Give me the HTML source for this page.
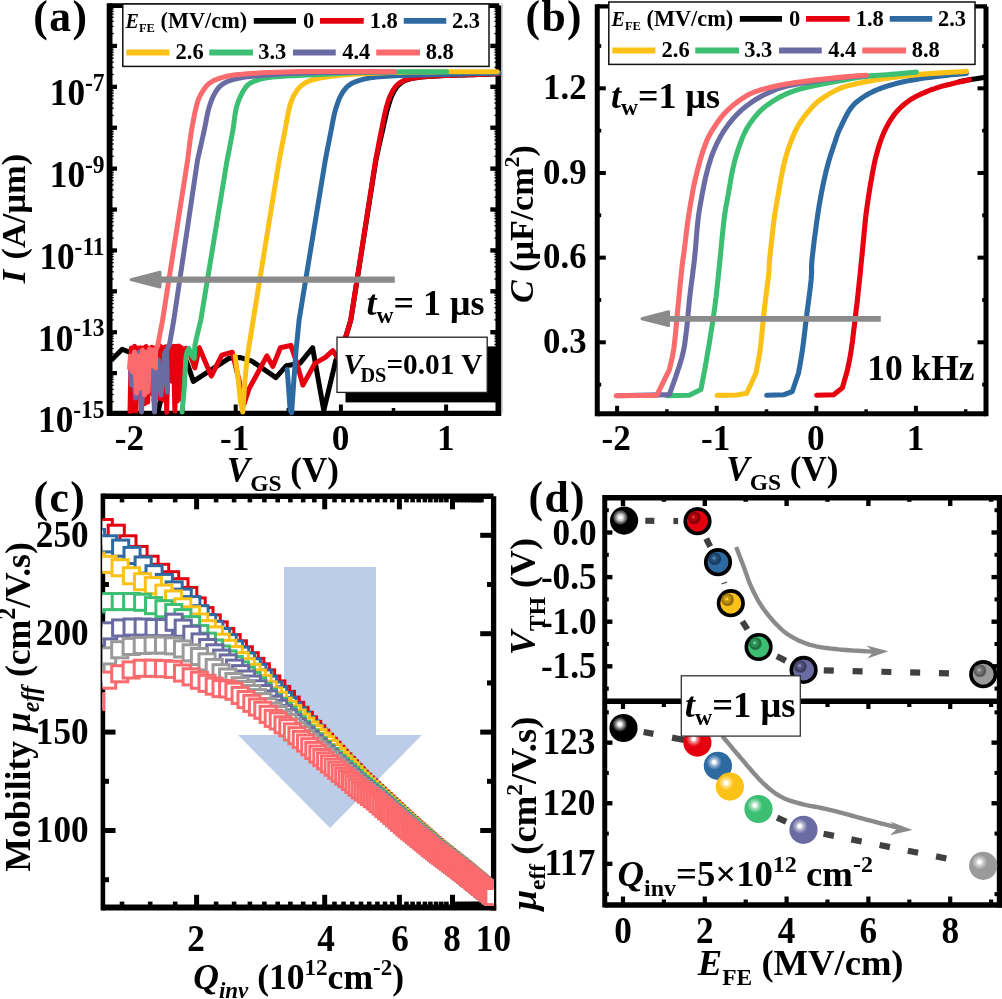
<!DOCTYPE html>
<html><head><meta charset="utf-8"><title>Figure</title>
<style>html,body{margin:0;padding:0;background:#fff;}svg{display:block;}</style>
</head><body>
<svg width="1002" height="999" viewBox="0 0 1002 999">
<rect x="0" y="0" width="1002" height="999" fill="#ffffff"/>
<line x1="109.60" y1="373.10" x2="117.00" y2="373.10" stroke="#000000" stroke-width="4.2" stroke-linecap="butt" />
<line x1="498.40" y1="373.10" x2="490.30" y2="373.10" stroke="#000000" stroke-width="4.4" stroke-linecap="butt" />
<line x1="109.60" y1="360.79" x2="113.70" y2="360.79" stroke="#000000" stroke-width="1.3" stroke-linecap="butt" />
<line x1="498.40" y1="360.79" x2="494.40" y2="360.79" stroke="#000000" stroke-width="1.3" stroke-linecap="butt" />
<line x1="109.60" y1="353.59" x2="113.70" y2="353.59" stroke="#000000" stroke-width="1.3" stroke-linecap="butt" />
<line x1="498.40" y1="353.59" x2="494.40" y2="353.59" stroke="#000000" stroke-width="1.3" stroke-linecap="butt" />
<line x1="109.60" y1="348.48" x2="113.70" y2="348.48" stroke="#000000" stroke-width="1.3" stroke-linecap="butt" />
<line x1="498.40" y1="348.48" x2="494.40" y2="348.48" stroke="#000000" stroke-width="1.3" stroke-linecap="butt" />
<line x1="109.60" y1="344.51" x2="113.70" y2="344.51" stroke="#000000" stroke-width="1.3" stroke-linecap="butt" />
<line x1="498.40" y1="344.51" x2="494.40" y2="344.51" stroke="#000000" stroke-width="1.3" stroke-linecap="butt" />
<line x1="109.60" y1="341.27" x2="113.70" y2="341.27" stroke="#000000" stroke-width="1.3" stroke-linecap="butt" />
<line x1="498.40" y1="341.27" x2="494.40" y2="341.27" stroke="#000000" stroke-width="1.3" stroke-linecap="butt" />
<line x1="109.60" y1="338.54" x2="113.70" y2="338.54" stroke="#000000" stroke-width="1.3" stroke-linecap="butt" />
<line x1="498.40" y1="338.54" x2="494.40" y2="338.54" stroke="#000000" stroke-width="1.3" stroke-linecap="butt" />
<line x1="109.60" y1="336.16" x2="113.70" y2="336.16" stroke="#000000" stroke-width="1.3" stroke-linecap="butt" />
<line x1="498.40" y1="336.16" x2="494.40" y2="336.16" stroke="#000000" stroke-width="1.3" stroke-linecap="butt" />
<line x1="109.60" y1="334.07" x2="113.70" y2="334.07" stroke="#000000" stroke-width="1.3" stroke-linecap="butt" />
<line x1="498.40" y1="334.07" x2="494.40" y2="334.07" stroke="#000000" stroke-width="1.3" stroke-linecap="butt" />
<line x1="109.60" y1="332.20" x2="117.00" y2="332.20" stroke="#000000" stroke-width="4.2" stroke-linecap="butt" />
<line x1="498.40" y1="332.20" x2="490.30" y2="332.20" stroke="#000000" stroke-width="4.4" stroke-linecap="butt" />
<line x1="109.60" y1="319.89" x2="113.70" y2="319.89" stroke="#000000" stroke-width="1.3" stroke-linecap="butt" />
<line x1="498.40" y1="319.89" x2="494.40" y2="319.89" stroke="#000000" stroke-width="1.3" stroke-linecap="butt" />
<line x1="109.60" y1="312.69" x2="113.70" y2="312.69" stroke="#000000" stroke-width="1.3" stroke-linecap="butt" />
<line x1="498.40" y1="312.69" x2="494.40" y2="312.69" stroke="#000000" stroke-width="1.3" stroke-linecap="butt" />
<line x1="109.60" y1="307.58" x2="113.70" y2="307.58" stroke="#000000" stroke-width="1.3" stroke-linecap="butt" />
<line x1="498.40" y1="307.58" x2="494.40" y2="307.58" stroke="#000000" stroke-width="1.3" stroke-linecap="butt" />
<line x1="109.60" y1="303.61" x2="113.70" y2="303.61" stroke="#000000" stroke-width="1.3" stroke-linecap="butt" />
<line x1="498.40" y1="303.61" x2="494.40" y2="303.61" stroke="#000000" stroke-width="1.3" stroke-linecap="butt" />
<line x1="109.60" y1="300.37" x2="113.70" y2="300.37" stroke="#000000" stroke-width="1.3" stroke-linecap="butt" />
<line x1="498.40" y1="300.37" x2="494.40" y2="300.37" stroke="#000000" stroke-width="1.3" stroke-linecap="butt" />
<line x1="109.60" y1="297.64" x2="113.70" y2="297.64" stroke="#000000" stroke-width="1.3" stroke-linecap="butt" />
<line x1="498.40" y1="297.64" x2="494.40" y2="297.64" stroke="#000000" stroke-width="1.3" stroke-linecap="butt" />
<line x1="109.60" y1="295.26" x2="113.70" y2="295.26" stroke="#000000" stroke-width="1.3" stroke-linecap="butt" />
<line x1="498.40" y1="295.26" x2="494.40" y2="295.26" stroke="#000000" stroke-width="1.3" stroke-linecap="butt" />
<line x1="109.60" y1="293.17" x2="113.70" y2="293.17" stroke="#000000" stroke-width="1.3" stroke-linecap="butt" />
<line x1="498.40" y1="293.17" x2="494.40" y2="293.17" stroke="#000000" stroke-width="1.3" stroke-linecap="butt" />
<line x1="109.60" y1="291.30" x2="117.00" y2="291.30" stroke="#000000" stroke-width="4.2" stroke-linecap="butt" />
<line x1="498.40" y1="291.30" x2="490.30" y2="291.30" stroke="#000000" stroke-width="4.4" stroke-linecap="butt" />
<line x1="109.60" y1="278.99" x2="113.70" y2="278.99" stroke="#000000" stroke-width="1.3" stroke-linecap="butt" />
<line x1="498.40" y1="278.99" x2="494.40" y2="278.99" stroke="#000000" stroke-width="1.3" stroke-linecap="butt" />
<line x1="109.60" y1="271.79" x2="113.70" y2="271.79" stroke="#000000" stroke-width="1.3" stroke-linecap="butt" />
<line x1="498.40" y1="271.79" x2="494.40" y2="271.79" stroke="#000000" stroke-width="1.3" stroke-linecap="butt" />
<line x1="109.60" y1="266.68" x2="113.70" y2="266.68" stroke="#000000" stroke-width="1.3" stroke-linecap="butt" />
<line x1="498.40" y1="266.68" x2="494.40" y2="266.68" stroke="#000000" stroke-width="1.3" stroke-linecap="butt" />
<line x1="109.60" y1="262.71" x2="113.70" y2="262.71" stroke="#000000" stroke-width="1.3" stroke-linecap="butt" />
<line x1="498.40" y1="262.71" x2="494.40" y2="262.71" stroke="#000000" stroke-width="1.3" stroke-linecap="butt" />
<line x1="109.60" y1="259.47" x2="113.70" y2="259.47" stroke="#000000" stroke-width="1.3" stroke-linecap="butt" />
<line x1="498.40" y1="259.47" x2="494.40" y2="259.47" stroke="#000000" stroke-width="1.3" stroke-linecap="butt" />
<line x1="109.60" y1="256.74" x2="113.70" y2="256.74" stroke="#000000" stroke-width="1.3" stroke-linecap="butt" />
<line x1="498.40" y1="256.74" x2="494.40" y2="256.74" stroke="#000000" stroke-width="1.3" stroke-linecap="butt" />
<line x1="109.60" y1="254.36" x2="113.70" y2="254.36" stroke="#000000" stroke-width="1.3" stroke-linecap="butt" />
<line x1="498.40" y1="254.36" x2="494.40" y2="254.36" stroke="#000000" stroke-width="1.3" stroke-linecap="butt" />
<line x1="109.60" y1="252.27" x2="113.70" y2="252.27" stroke="#000000" stroke-width="1.3" stroke-linecap="butt" />
<line x1="498.40" y1="252.27" x2="494.40" y2="252.27" stroke="#000000" stroke-width="1.3" stroke-linecap="butt" />
<line x1="109.60" y1="250.40" x2="117.00" y2="250.40" stroke="#000000" stroke-width="4.2" stroke-linecap="butt" />
<line x1="498.40" y1="250.40" x2="490.30" y2="250.40" stroke="#000000" stroke-width="4.4" stroke-linecap="butt" />
<line x1="109.60" y1="238.09" x2="113.70" y2="238.09" stroke="#000000" stroke-width="1.3" stroke-linecap="butt" />
<line x1="498.40" y1="238.09" x2="494.40" y2="238.09" stroke="#000000" stroke-width="1.3" stroke-linecap="butt" />
<line x1="109.60" y1="230.89" x2="113.70" y2="230.89" stroke="#000000" stroke-width="1.3" stroke-linecap="butt" />
<line x1="498.40" y1="230.89" x2="494.40" y2="230.89" stroke="#000000" stroke-width="1.3" stroke-linecap="butt" />
<line x1="109.60" y1="225.78" x2="113.70" y2="225.78" stroke="#000000" stroke-width="1.3" stroke-linecap="butt" />
<line x1="498.40" y1="225.78" x2="494.40" y2="225.78" stroke="#000000" stroke-width="1.3" stroke-linecap="butt" />
<line x1="109.60" y1="221.81" x2="113.70" y2="221.81" stroke="#000000" stroke-width="1.3" stroke-linecap="butt" />
<line x1="498.40" y1="221.81" x2="494.40" y2="221.81" stroke="#000000" stroke-width="1.3" stroke-linecap="butt" />
<line x1="109.60" y1="218.57" x2="113.70" y2="218.57" stroke="#000000" stroke-width="1.3" stroke-linecap="butt" />
<line x1="498.40" y1="218.57" x2="494.40" y2="218.57" stroke="#000000" stroke-width="1.3" stroke-linecap="butt" />
<line x1="109.60" y1="215.84" x2="113.70" y2="215.84" stroke="#000000" stroke-width="1.3" stroke-linecap="butt" />
<line x1="498.40" y1="215.84" x2="494.40" y2="215.84" stroke="#000000" stroke-width="1.3" stroke-linecap="butt" />
<line x1="109.60" y1="213.46" x2="113.70" y2="213.46" stroke="#000000" stroke-width="1.3" stroke-linecap="butt" />
<line x1="498.40" y1="213.46" x2="494.40" y2="213.46" stroke="#000000" stroke-width="1.3" stroke-linecap="butt" />
<line x1="109.60" y1="211.37" x2="113.70" y2="211.37" stroke="#000000" stroke-width="1.3" stroke-linecap="butt" />
<line x1="498.40" y1="211.37" x2="494.40" y2="211.37" stroke="#000000" stroke-width="1.3" stroke-linecap="butt" />
<line x1="109.60" y1="209.50" x2="117.00" y2="209.50" stroke="#000000" stroke-width="4.2" stroke-linecap="butt" />
<line x1="498.40" y1="209.50" x2="490.30" y2="209.50" stroke="#000000" stroke-width="4.4" stroke-linecap="butt" />
<line x1="109.60" y1="197.19" x2="113.70" y2="197.19" stroke="#000000" stroke-width="1.3" stroke-linecap="butt" />
<line x1="498.40" y1="197.19" x2="494.40" y2="197.19" stroke="#000000" stroke-width="1.3" stroke-linecap="butt" />
<line x1="109.60" y1="189.99" x2="113.70" y2="189.99" stroke="#000000" stroke-width="1.3" stroke-linecap="butt" />
<line x1="498.40" y1="189.99" x2="494.40" y2="189.99" stroke="#000000" stroke-width="1.3" stroke-linecap="butt" />
<line x1="109.60" y1="184.88" x2="113.70" y2="184.88" stroke="#000000" stroke-width="1.3" stroke-linecap="butt" />
<line x1="498.40" y1="184.88" x2="494.40" y2="184.88" stroke="#000000" stroke-width="1.3" stroke-linecap="butt" />
<line x1="109.60" y1="180.91" x2="113.70" y2="180.91" stroke="#000000" stroke-width="1.3" stroke-linecap="butt" />
<line x1="498.40" y1="180.91" x2="494.40" y2="180.91" stroke="#000000" stroke-width="1.3" stroke-linecap="butt" />
<line x1="109.60" y1="177.67" x2="113.70" y2="177.67" stroke="#000000" stroke-width="1.3" stroke-linecap="butt" />
<line x1="498.40" y1="177.67" x2="494.40" y2="177.67" stroke="#000000" stroke-width="1.3" stroke-linecap="butt" />
<line x1="109.60" y1="174.94" x2="113.70" y2="174.94" stroke="#000000" stroke-width="1.3" stroke-linecap="butt" />
<line x1="498.40" y1="174.94" x2="494.40" y2="174.94" stroke="#000000" stroke-width="1.3" stroke-linecap="butt" />
<line x1="109.60" y1="172.56" x2="113.70" y2="172.56" stroke="#000000" stroke-width="1.3" stroke-linecap="butt" />
<line x1="498.40" y1="172.56" x2="494.40" y2="172.56" stroke="#000000" stroke-width="1.3" stroke-linecap="butt" />
<line x1="109.60" y1="170.47" x2="113.70" y2="170.47" stroke="#000000" stroke-width="1.3" stroke-linecap="butt" />
<line x1="498.40" y1="170.47" x2="494.40" y2="170.47" stroke="#000000" stroke-width="1.3" stroke-linecap="butt" />
<line x1="109.60" y1="168.60" x2="117.00" y2="168.60" stroke="#000000" stroke-width="4.2" stroke-linecap="butt" />
<line x1="498.40" y1="168.60" x2="490.30" y2="168.60" stroke="#000000" stroke-width="4.4" stroke-linecap="butt" />
<line x1="109.60" y1="156.29" x2="113.70" y2="156.29" stroke="#000000" stroke-width="1.3" stroke-linecap="butt" />
<line x1="498.40" y1="156.29" x2="494.40" y2="156.29" stroke="#000000" stroke-width="1.3" stroke-linecap="butt" />
<line x1="109.60" y1="149.09" x2="113.70" y2="149.09" stroke="#000000" stroke-width="1.3" stroke-linecap="butt" />
<line x1="498.40" y1="149.09" x2="494.40" y2="149.09" stroke="#000000" stroke-width="1.3" stroke-linecap="butt" />
<line x1="109.60" y1="143.98" x2="113.70" y2="143.98" stroke="#000000" stroke-width="1.3" stroke-linecap="butt" />
<line x1="498.40" y1="143.98" x2="494.40" y2="143.98" stroke="#000000" stroke-width="1.3" stroke-linecap="butt" />
<line x1="109.60" y1="140.01" x2="113.70" y2="140.01" stroke="#000000" stroke-width="1.3" stroke-linecap="butt" />
<line x1="498.40" y1="140.01" x2="494.40" y2="140.01" stroke="#000000" stroke-width="1.3" stroke-linecap="butt" />
<line x1="109.60" y1="136.77" x2="113.70" y2="136.77" stroke="#000000" stroke-width="1.3" stroke-linecap="butt" />
<line x1="498.40" y1="136.77" x2="494.40" y2="136.77" stroke="#000000" stroke-width="1.3" stroke-linecap="butt" />
<line x1="109.60" y1="134.04" x2="113.70" y2="134.04" stroke="#000000" stroke-width="1.3" stroke-linecap="butt" />
<line x1="498.40" y1="134.04" x2="494.40" y2="134.04" stroke="#000000" stroke-width="1.3" stroke-linecap="butt" />
<line x1="109.60" y1="131.66" x2="113.70" y2="131.66" stroke="#000000" stroke-width="1.3" stroke-linecap="butt" />
<line x1="498.40" y1="131.66" x2="494.40" y2="131.66" stroke="#000000" stroke-width="1.3" stroke-linecap="butt" />
<line x1="109.60" y1="129.57" x2="113.70" y2="129.57" stroke="#000000" stroke-width="1.3" stroke-linecap="butt" />
<line x1="498.40" y1="129.57" x2="494.40" y2="129.57" stroke="#000000" stroke-width="1.3" stroke-linecap="butt" />
<line x1="109.60" y1="127.70" x2="117.00" y2="127.70" stroke="#000000" stroke-width="4.2" stroke-linecap="butt" />
<line x1="498.40" y1="127.70" x2="490.30" y2="127.70" stroke="#000000" stroke-width="4.4" stroke-linecap="butt" />
<line x1="109.60" y1="115.39" x2="113.70" y2="115.39" stroke="#000000" stroke-width="1.3" stroke-linecap="butt" />
<line x1="498.40" y1="115.39" x2="494.40" y2="115.39" stroke="#000000" stroke-width="1.3" stroke-linecap="butt" />
<line x1="109.60" y1="108.19" x2="113.70" y2="108.19" stroke="#000000" stroke-width="1.3" stroke-linecap="butt" />
<line x1="498.40" y1="108.19" x2="494.40" y2="108.19" stroke="#000000" stroke-width="1.3" stroke-linecap="butt" />
<line x1="109.60" y1="103.08" x2="113.70" y2="103.08" stroke="#000000" stroke-width="1.3" stroke-linecap="butt" />
<line x1="498.40" y1="103.08" x2="494.40" y2="103.08" stroke="#000000" stroke-width="1.3" stroke-linecap="butt" />
<line x1="109.60" y1="99.11" x2="113.70" y2="99.11" stroke="#000000" stroke-width="1.3" stroke-linecap="butt" />
<line x1="498.40" y1="99.11" x2="494.40" y2="99.11" stroke="#000000" stroke-width="1.3" stroke-linecap="butt" />
<line x1="109.60" y1="95.87" x2="113.70" y2="95.87" stroke="#000000" stroke-width="1.3" stroke-linecap="butt" />
<line x1="498.40" y1="95.87" x2="494.40" y2="95.87" stroke="#000000" stroke-width="1.3" stroke-linecap="butt" />
<line x1="109.60" y1="93.14" x2="113.70" y2="93.14" stroke="#000000" stroke-width="1.3" stroke-linecap="butt" />
<line x1="498.40" y1="93.14" x2="494.40" y2="93.14" stroke="#000000" stroke-width="1.3" stroke-linecap="butt" />
<line x1="109.60" y1="90.76" x2="113.70" y2="90.76" stroke="#000000" stroke-width="1.3" stroke-linecap="butt" />
<line x1="498.40" y1="90.76" x2="494.40" y2="90.76" stroke="#000000" stroke-width="1.3" stroke-linecap="butt" />
<line x1="109.60" y1="88.67" x2="113.70" y2="88.67" stroke="#000000" stroke-width="1.3" stroke-linecap="butt" />
<line x1="498.40" y1="88.67" x2="494.40" y2="88.67" stroke="#000000" stroke-width="1.3" stroke-linecap="butt" />
<line x1="109.60" y1="86.80" x2="117.00" y2="86.80" stroke="#000000" stroke-width="4.2" stroke-linecap="butt" />
<line x1="498.40" y1="86.80" x2="490.30" y2="86.80" stroke="#000000" stroke-width="4.4" stroke-linecap="butt" />
<line x1="109.60" y1="74.49" x2="113.70" y2="74.49" stroke="#000000" stroke-width="1.3" stroke-linecap="butt" />
<line x1="498.40" y1="74.49" x2="494.40" y2="74.49" stroke="#000000" stroke-width="1.3" stroke-linecap="butt" />
<line x1="109.60" y1="67.29" x2="113.70" y2="67.29" stroke="#000000" stroke-width="1.3" stroke-linecap="butt" />
<line x1="498.40" y1="67.29" x2="494.40" y2="67.29" stroke="#000000" stroke-width="1.3" stroke-linecap="butt" />
<line x1="109.60" y1="62.18" x2="113.70" y2="62.18" stroke="#000000" stroke-width="1.3" stroke-linecap="butt" />
<line x1="498.40" y1="62.18" x2="494.40" y2="62.18" stroke="#000000" stroke-width="1.3" stroke-linecap="butt" />
<line x1="109.60" y1="58.21" x2="113.70" y2="58.21" stroke="#000000" stroke-width="1.3" stroke-linecap="butt" />
<line x1="498.40" y1="58.21" x2="494.40" y2="58.21" stroke="#000000" stroke-width="1.3" stroke-linecap="butt" />
<line x1="109.60" y1="54.97" x2="113.70" y2="54.97" stroke="#000000" stroke-width="1.3" stroke-linecap="butt" />
<line x1="498.40" y1="54.97" x2="494.40" y2="54.97" stroke="#000000" stroke-width="1.3" stroke-linecap="butt" />
<line x1="109.60" y1="52.24" x2="113.70" y2="52.24" stroke="#000000" stroke-width="1.3" stroke-linecap="butt" />
<line x1="498.40" y1="52.24" x2="494.40" y2="52.24" stroke="#000000" stroke-width="1.3" stroke-linecap="butt" />
<line x1="109.60" y1="49.86" x2="113.70" y2="49.86" stroke="#000000" stroke-width="1.3" stroke-linecap="butt" />
<line x1="498.40" y1="49.86" x2="494.40" y2="49.86" stroke="#000000" stroke-width="1.3" stroke-linecap="butt" />
<line x1="109.60" y1="47.77" x2="113.70" y2="47.77" stroke="#000000" stroke-width="1.3" stroke-linecap="butt" />
<line x1="498.40" y1="47.77" x2="494.40" y2="47.77" stroke="#000000" stroke-width="1.3" stroke-linecap="butt" />
<line x1="109.60" y1="45.90" x2="117.00" y2="45.90" stroke="#000000" stroke-width="4.2" stroke-linecap="butt" />
<line x1="498.40" y1="45.90" x2="490.30" y2="45.90" stroke="#000000" stroke-width="4.4" stroke-linecap="butt" />
<line x1="109.60" y1="33.59" x2="113.70" y2="33.59" stroke="#000000" stroke-width="1.3" stroke-linecap="butt" />
<line x1="498.40" y1="33.59" x2="494.40" y2="33.59" stroke="#000000" stroke-width="1.3" stroke-linecap="butt" />
<line x1="109.60" y1="26.39" x2="113.70" y2="26.39" stroke="#000000" stroke-width="1.3" stroke-linecap="butt" />
<line x1="498.40" y1="26.39" x2="494.40" y2="26.39" stroke="#000000" stroke-width="1.3" stroke-linecap="butt" />
<line x1="109.60" y1="21.28" x2="113.70" y2="21.28" stroke="#000000" stroke-width="1.3" stroke-linecap="butt" />
<line x1="498.40" y1="21.28" x2="494.40" y2="21.28" stroke="#000000" stroke-width="1.3" stroke-linecap="butt" />
<line x1="109.60" y1="17.31" x2="113.70" y2="17.31" stroke="#000000" stroke-width="1.3" stroke-linecap="butt" />
<line x1="498.40" y1="17.31" x2="494.40" y2="17.31" stroke="#000000" stroke-width="1.3" stroke-linecap="butt" />
<line x1="109.60" y1="14.07" x2="113.70" y2="14.07" stroke="#000000" stroke-width="1.3" stroke-linecap="butt" />
<line x1="498.40" y1="14.07" x2="494.40" y2="14.07" stroke="#000000" stroke-width="1.3" stroke-linecap="butt" />
<line x1="109.60" y1="11.34" x2="113.70" y2="11.34" stroke="#000000" stroke-width="1.3" stroke-linecap="butt" />
<line x1="498.40" y1="11.34" x2="494.40" y2="11.34" stroke="#000000" stroke-width="1.3" stroke-linecap="butt" />
<line x1="109.60" y1="8.96" x2="113.70" y2="8.96" stroke="#000000" stroke-width="1.3" stroke-linecap="butt" />
<line x1="498.40" y1="8.96" x2="494.40" y2="8.96" stroke="#000000" stroke-width="1.3" stroke-linecap="butt" />
<line x1="109.60" y1="401.69" x2="113.70" y2="401.69" stroke="#000000" stroke-width="1.3" stroke-linecap="butt" />
<line x1="498.40" y1="401.69" x2="494.40" y2="401.69" stroke="#000000" stroke-width="1.3" stroke-linecap="butt" />
<line x1="109.60" y1="394.49" x2="113.70" y2="394.49" stroke="#000000" stroke-width="1.3" stroke-linecap="butt" />
<line x1="498.40" y1="394.49" x2="494.40" y2="394.49" stroke="#000000" stroke-width="1.3" stroke-linecap="butt" />
<line x1="109.60" y1="389.38" x2="113.70" y2="389.38" stroke="#000000" stroke-width="1.3" stroke-linecap="butt" />
<line x1="498.40" y1="389.38" x2="494.40" y2="389.38" stroke="#000000" stroke-width="1.3" stroke-linecap="butt" />
<line x1="109.60" y1="385.41" x2="113.70" y2="385.41" stroke="#000000" stroke-width="1.3" stroke-linecap="butt" />
<line x1="498.40" y1="385.41" x2="494.40" y2="385.41" stroke="#000000" stroke-width="1.3" stroke-linecap="butt" />
<line x1="109.60" y1="382.17" x2="113.70" y2="382.17" stroke="#000000" stroke-width="1.3" stroke-linecap="butt" />
<line x1="498.40" y1="382.17" x2="494.40" y2="382.17" stroke="#000000" stroke-width="1.3" stroke-linecap="butt" />
<line x1="109.60" y1="379.44" x2="113.70" y2="379.44" stroke="#000000" stroke-width="1.3" stroke-linecap="butt" />
<line x1="498.40" y1="379.44" x2="494.40" y2="379.44" stroke="#000000" stroke-width="1.3" stroke-linecap="butt" />
<line x1="109.60" y1="377.06" x2="113.70" y2="377.06" stroke="#000000" stroke-width="1.3" stroke-linecap="butt" />
<line x1="498.40" y1="377.06" x2="494.40" y2="377.06" stroke="#000000" stroke-width="1.3" stroke-linecap="butt" />
<line x1="109.60" y1="374.97" x2="113.70" y2="374.97" stroke="#000000" stroke-width="1.3" stroke-linecap="butt" />
<line x1="498.40" y1="374.97" x2="494.40" y2="374.97" stroke="#000000" stroke-width="1.3" stroke-linecap="butt" />
<line x1="130.50" y1="413.40" x2="130.50" y2="404.50" stroke="#000000" stroke-width="4" stroke-linecap="butt" />
<line x1="235.70" y1="413.40" x2="235.70" y2="404.50" stroke="#000000" stroke-width="4" stroke-linecap="butt" />
<line x1="340.90" y1="413.40" x2="340.90" y2="404.50" stroke="#000000" stroke-width="4" stroke-linecap="butt" />
<line x1="446.10" y1="413.40" x2="446.10" y2="404.50" stroke="#000000" stroke-width="4" stroke-linecap="butt" />
<line x1="183.10" y1="413.40" x2="183.10" y2="408.00" stroke="#000000" stroke-width="3.5" stroke-linecap="butt" />
<line x1="288.30" y1="413.40" x2="288.30" y2="408.00" stroke="#000000" stroke-width="3.5" stroke-linecap="butt" />
<line x1="393.50" y1="413.40" x2="393.50" y2="408.00" stroke="#000000" stroke-width="3.5" stroke-linecap="butt" />
<line x1="109.60" y1="3.20" x2="109.60" y2="416.10" stroke="#000000" stroke-width="5.8" stroke-linecap="butt" />
<line x1="498.40" y1="5.60" x2="498.40" y2="416.00" stroke="#000000" stroke-width="5.8" stroke-linecap="butt" />
<line x1="109.60" y1="5.60" x2="499.20" y2="5.60" stroke="#000000" stroke-width="4.8" stroke-linecap="butt" />
<line x1="109.60" y1="413.40" x2="499.20" y2="413.40" stroke="#000000" stroke-width="5.2" stroke-linecap="butt" />
<polyline points="499.0,73.8 497.2,73.9 494.9,73.9 492.0,74.0 488.8,74.2 485.3,74.3 481.7,74.4 477.8,74.5 473.4,74.7 468.8,74.8 464.1,75.0 459.3,75.1 454.7,75.3 450.1,75.5 445.4,75.6 440.7,75.8 436.1,76.0 431.7,76.2 427.8,76.5 424.3,76.8 421.0,77.1 418.0,77.5 415.2,77.9 412.7,78.4 410.3,78.9 408.2,79.5 406.3,80.1 404.7,80.7 403.2,81.5 401.8,82.4 400.4,83.4 399.1,84.6 397.8,85.8 396.7,87.2 395.6,88.8 394.5,90.4 393.5,92.3 392.5,94.3 391.6,96.3 390.7,98.5 389.9,100.9 389.0,103.6 388.1,106.7 387.1,110.2 386.2,114.2 385.2,118.5 384.2,122.9 383.2,127.4 382.2,131.9 381.1,136.7 379.9,142.0 378.7,147.4 377.6,152.4 376.7,156.6 376.0,159.7 350.8,320.0 346.3,335.0 341.2,350.0 335.8,360.4 323.8,410.5 312.6,347.7 299.9,363.4 286.4,365.7 275.9,377.6 252.0,361.2 239.7,357.4 229.3,358.2 193.3,381.4 188.8,367.9 183.0,352.0 170.0,358.0 160.0,352.0 150.0,356.0 135.0,354.4 122.2,349.2 112.5,358.9" fill="none" stroke="#000000" stroke-width="5.0" stroke-linejoin="round" stroke-linecap="round" />
<polyline points="164.0,352.0 169.0,380.0 174.0,356.0" fill="none" stroke="#000000" stroke-width="5.0" stroke-linejoin="round" stroke-linecap="round" />
<polyline points="154.0,400.0 158.0,412.0 162.0,395.0" fill="none" stroke="#000000" stroke-width="5.0" stroke-linejoin="round" stroke-linecap="round" />
<polyline points="499.0,73.6 497.2,73.7 494.9,73.8 492.0,73.9 488.8,74.1 485.3,74.3 481.7,74.4 477.8,74.5 473.4,74.7 468.8,74.8 464.1,75.0 459.3,75.1 454.7,75.3 450.1,75.5 445.4,75.6 440.7,75.8 436.1,76.0 431.8,76.2 427.8,76.5 424.2,76.8 420.9,77.1 417.8,77.5 414.9,77.9 412.3,78.4 409.8,78.9 407.5,79.5 405.5,80.1 403.7,80.7 402.1,81.5 400.5,82.4 399.0,83.4 397.6,84.6 396.3,85.8 395.1,87.2 394.0,88.8 392.9,90.4 391.9,92.3 390.9,94.3 390.0,96.3 389.1,98.5 388.2,100.9 387.4,103.6 386.5,106.7 385.6,110.2 384.7,114.2 383.8,118.5 382.9,122.9 382.0,127.4 381.1,131.9 380.1,136.7 379.1,142.0 378.1,147.4 377.1,152.4 376.3,156.6 375.7,159.7 350.8,320.0 346.3,335.0 341.0,348.0 337.3,357.4 332.8,350.7 325.3,357.4 314.9,363.4 302.9,385.1 296.5,362.0 290.9,345.4 280.4,347.7 272.9,366.4 266.9,355.9 249.0,388.9 244.0,404.0 238.5,378.0 232.2,352.2 221.8,355.2 211.3,376.1 199.3,347.7 194.8,367.9 190.5,356.0 185.8,348.4 183.5,350.0 182.5,399.7 181.3,347.6 180.2,398.9 178.8,346.1 177.4,400.9 176.1,346.2 174.9,411.3 173.3,346.3 172.1,381.5 170.4,347.4 169.1,380.1 168.0,348.1 166.7,412.4 165.5,346.8 163.9,400.3 162.5,347.6 161.2,398.8 160.0,346.1 158.8,398.3 157.4,346.8 156.0,394.2 154.7,348.0 153.2,395.0 151.7,347.3 150.1,393.1 148.8,348.5 147.7,402.3 146.1,346.4 144.7,403.8 143.2,347.9 141.8,392.5 140.5,347.7 139.0,393.7 137.7,348.1 136.0,411.1 134.5,346.2 133.0,410.4 131.3,348.1 130.0,411.5" fill="none" stroke="#e6000f" stroke-width="5.0" stroke-linejoin="round" stroke-linecap="round" />
<polyline points="499.0,73.0 493.0,73.2 484.5,73.4 474.6,73.6 464.2,73.9 454.2,74.2 445.7,74.4 438.6,74.6 432.1,74.7 426.1,74.9 420.5,75.0 415.1,75.1 409.8,75.3 404.7,75.5 399.8,75.6 395.2,75.8 390.9,76.0 386.8,76.2 382.9,76.5 379.3,76.8 376.1,77.1 373.1,77.4 370.3,77.8 367.6,78.3 364.9,78.9 362.2,79.6 359.6,80.3 357.1,81.1 354.8,82.0 352.5,83.0 350.5,84.2 348.7,85.5 347.0,86.9 345.5,88.5 344.2,90.2 342.9,92.0 341.6,94.1 340.4,96.4 339.2,98.8 338.2,101.5 337.2,104.3 336.2,107.2 335.3,110.3 334.5,113.5 333.7,116.9 333.0,120.4 332.3,124.0 331.6,127.9 330.8,131.9 329.9,136.5 328.9,141.7 327.8,147.2 326.8,152.3 326.0,156.6 325.4,159.7 299.1,320.0 296.1,350.0 293.9,379.9 291.6,412.8 290.1,409.8 288.6,388.0 287.2,369.4" fill="none" stroke="#2e6aa2" stroke-width="5.0" stroke-linejoin="round" stroke-linecap="round" />
<polyline points="497.2,71.7 488.4,71.7 475.8,71.8 461.1,71.8 445.8,71.8 431.6,71.9 420.0,72.0 411.1,72.1 403.5,72.3 397.1,72.4 391.2,72.6 385.7,72.8 380.0,73.0 374.3,73.2 368.9,73.4 363.8,73.7 358.9,73.9 354.3,74.2 350.0,74.5 346.0,74.8 342.4,75.1 339.0,75.4 335.9,75.7 332.7,76.1 329.6,76.5 326.4,77.0 323.2,77.5 320.1,78.1 317.0,78.7 314.2,79.3 311.7,80.1 309.4,80.9 307.4,81.7 305.6,82.7 304.0,83.7 302.4,84.8 300.9,86.0 299.5,87.4 298.1,88.9 296.9,90.5 295.8,92.3 294.7,94.0 293.7,95.9 292.8,97.7 292.0,99.5 291.3,101.4 290.6,103.4 289.9,105.7 289.2,108.5 288.5,111.7 287.7,115.3 287.0,119.2 286.3,123.4 285.5,127.6 284.7,131.9 283.8,136.6 282.8,141.9 281.7,147.3 280.7,152.3 279.9,156.6 279.3,159.7 253.2,320.0 247.2,357.4 245.0,380.0 242.7,412.0 240.5,402.0 238.0,378.0 235.2,355.9" fill="none" stroke="#fcc116" stroke-width="5.0" stroke-linejoin="round" stroke-linecap="round" />
<polyline points="446.6,71.7 440.7,71.7 432.3,71.7 422.4,71.8 412.1,71.8 402.3,71.8 394.0,71.9 387.2,72.0 381.2,72.0 375.6,72.1 370.4,72.2 365.2,72.3 360.0,72.5 354.7,72.7 349.5,72.9 344.4,73.2 339.3,73.5 334.4,73.8 329.6,74.0 324.9,74.2 320.2,74.5 315.7,74.7 311.3,74.9 306.9,75.1 302.7,75.3 298.5,75.5 294.4,75.7 290.4,75.8 286.6,76.0 282.8,76.2 279.3,76.5 275.9,76.8 272.7,77.1 269.7,77.4 266.8,77.8 264.0,78.3 261.4,78.9 258.9,79.6 256.6,80.3 254.4,81.1 252.4,82.0 250.5,83.0 248.8,84.2 247.3,85.5 245.9,87.0 244.8,88.6 243.7,90.3 242.6,92.1 241.6,94.1 240.6,96.1 239.6,98.2 238.7,100.5 237.8,102.9 237.0,105.5 236.2,108.5 235.5,111.8 234.9,115.5 234.4,119.4 233.9,123.4 233.3,127.6 232.6,131.9 231.7,136.6 230.7,141.9 229.7,147.3 228.7,152.3 227.8,156.6 227.2,159.7 200.8,320.0 196.5,338.0 194.8,346.0 194.3,358.5 192.0,356.0 188.8,348.4 187.0,352.0 185.8,358.9 184.3,387.4 182.1,412.0" fill="none" stroke="#3cbf73" stroke-width="5.0" stroke-linejoin="round" stroke-linecap="round" />
<polyline points="394.5,71.9 387.2,72.0 376.9,72.0 364.8,72.1 352.1,72.2 340.1,72.4 330.0,72.5 321.8,72.6 314.6,72.8 308.0,72.9 301.8,73.1 295.9,73.3 290.0,73.5 284.0,73.8 278.2,74.2 272.5,74.6 267.2,75.0 262.3,75.4 257.8,75.8 253.9,76.1 250.6,76.5 247.7,76.8 245.0,77.1 242.4,77.5 239.8,78.0 237.1,78.6 234.5,79.2 232.0,79.9 229.7,80.7 227.4,81.5 225.4,82.5 223.6,83.5 222.0,84.6 220.5,85.8 219.1,87.1 217.8,88.7 216.5,90.5 215.2,92.6 213.9,95.0 212.7,97.5 211.5,100.3 210.4,103.4 209.3,106.7 208.3,110.3 207.4,114.3 206.5,118.6 205.7,123.0 204.8,127.4 203.9,131.9 202.8,136.7 201.6,142.0 200.4,147.4 199.3,152.4 198.3,156.6 197.6,159.7 173.8,320.0 169.6,344.0 166.5,350.0 167.5,392.0 165.0,352.0 161.0,395.0 158.5,360.0 156.5,380.0 154.5,412.0 152.5,370.0 150.5,366.0 148.0,372.0 145.0,368.0 143.0,380.0 141.5,412.0 139.5,352.0 137.5,360.0 135.5,398.0 133.5,365.0 131.5,385.0 130.5,362.0" fill="none" stroke="#6b6ba3" stroke-width="5.0" stroke-linejoin="round" stroke-linecap="round" />
<polyline points="394.5,71.7 387.3,71.7 377.3,71.6 365.4,71.5 352.8,71.4 340.5,71.4 329.6,71.4 319.8,71.5 310.2,71.5 300.8,71.6 291.9,71.8 283.5,72.0 275.7,72.2 268.5,72.5 261.7,72.8 255.5,73.2 249.8,73.5 244.5,74.0 239.8,74.4 235.7,74.8 232.3,75.3 229.4,75.8 226.8,76.3 224.4,76.9 221.9,77.6 219.4,78.4 217.1,79.2 214.9,80.1 212.9,81.1 211.0,82.2 209.3,83.4 207.8,84.7 206.4,86.0 205.3,87.4 204.2,88.9 203.1,90.6 202.1,92.3 201.1,94.0 200.2,95.7 199.3,97.5 198.4,99.5 197.6,101.9 196.7,104.9 195.8,108.6 194.8,112.8 193.9,117.5 193.0,122.3 192.1,127.2 191.3,131.9 190.6,136.8 189.8,142.1 189.2,147.5 188.6,152.5 188.1,156.7 187.7,159.7 162.6,320.0 157.8,345.4 155.5,351.0 155.5,368.0 153.0,350.0 151.5,366.0 149.5,349.0 148.0,392.0 146.0,352.0 144.5,395.0 142.5,350.0 140.5,388.0 138.5,356.0 136.5,393.0 134.5,352.0 132.5,372.0 130.5,356.0 129.5,368.0" fill="none" stroke="#fb6a6d" stroke-width="5.0" stroke-linejoin="round" stroke-linecap="round" />
<line x1="158.00" y1="279.60" x2="394.80" y2="279.60" stroke="#8a8a8a" stroke-width="6.3" stroke-linecap="butt" />
<polygon points="131,279.6 160,272.2 160,287" fill="#8a8a8a" stroke="#8a8a8a" stroke-width="3" stroke-linejoin="round"/>
<rect x="122.80" y="4.00" width="366.20" height="62.40" fill="#ffffff" stroke="#111" stroke-width="1.5" />
<text transform="translate(125.60,27.60) scale(1,1.0)" font-family="'Liberation Serif', serif" font-weight="bold" font-size="22.3" text-anchor="start" ><tspan font-size="20"><tspan font-style="italic">E</tspan></tspan><tspan font-size="12.5" dy="4.5">FE</tspan><tspan dy="-4.5" font-size="1">&#8203;</tspan><tspan font-size="22.3"> (MV/cm)</tspan></text>
<line x1="253.80" y1="20.90" x2="296.00" y2="20.90" stroke="#000000" stroke-width="5.8" stroke-linecap="butt" />
<text transform="translate(308.70,28.20) scale(1,1.06)" font-family="'Liberation Serif', serif" font-weight="bold" font-size="22.5" text-anchor="middle" >0</text>
<line x1="320.00" y1="20.90" x2="363.75" y2="20.90" stroke="#e6000f" stroke-width="5.8" stroke-linecap="butt" />
<text transform="translate(383.70,28.20) scale(1,1.06)" font-family="'Liberation Serif', serif" font-weight="bold" font-size="22.5" text-anchor="middle" >1.8</text>
<line x1="403.75" y1="20.90" x2="446.25" y2="20.90" stroke="#2e6aa2" stroke-width="5.8" stroke-linecap="butt" />
<text transform="translate(466.00,28.20) scale(1,1.06)" font-family="'Liberation Serif', serif" font-weight="bold" font-size="22.5" text-anchor="middle" >2.3</text>
<line x1="126.30" y1="52.50" x2="169.40" y2="52.50" stroke="#fcc116" stroke-width="5.8" stroke-linecap="butt" />
<text transform="translate(189.60,59.10) scale(1,1.06)" font-family="'Liberation Serif', serif" font-weight="bold" font-size="22.5" text-anchor="middle" >2.6</text>
<line x1="209.30" y1="52.50" x2="253.00" y2="52.50" stroke="#3cbf73" stroke-width="5.8" stroke-linecap="butt" />
<text transform="translate(272.30,59.10) scale(1,1.06)" font-family="'Liberation Serif', serif" font-weight="bold" font-size="22.5" text-anchor="middle" >3.3</text>
<line x1="293.00" y1="52.50" x2="335.75" y2="52.50" stroke="#6b6ba3" stroke-width="5.8" stroke-linecap="butt" />
<text transform="translate(356.20,59.10) scale(1,1.06)" font-family="'Liberation Serif', serif" font-weight="bold" font-size="22.5" text-anchor="middle" >4.4</text>
<line x1="376.25" y1="52.50" x2="420.00" y2="52.50" stroke="#fb6a6d" stroke-width="5.8" stroke-linecap="butt" />
<text transform="translate(439.70,59.10) scale(1,1.06)" font-family="'Liberation Serif', serif" font-weight="bold" font-size="22.5" text-anchor="middle" >8.8</text>
<rect x="345.50" y="346.40" width="153.00" height="56.00" fill="#000" stroke="none" stroke-width="0" />
<rect x="337.00" y="337.20" width="150.20" height="55.20" fill="#ffffff" stroke="#222" stroke-width="1.3" />
<text transform="translate(343.40,373.50) scale(1,1.0)" font-family="'Liberation Serif', serif" font-weight="bold" font-size="29.3" text-anchor="start" ><tspan font-style="italic">V</tspan><tspan dx="-2.5" font-size="1">&#8203;</tspan><tspan font-size="20.3" dy="8.3">DS</tspan><tspan dy="-8.3" font-size="1">&#8203;</tspan>=0.01 V</text>
<text transform="translate(366.50,315.00) scale(1,1.0)" font-family="'Liberation Serif', serif" font-weight="bold" font-size="36" text-anchor="start" ><tspan font-style="italic">t</tspan><tspan font-size="23.5" dy="7.7">w</tspan><tspan dy="-7.7" font-size="1">&#8203;</tspan>= 1 &#956;s</text>
<text transform="translate(33.30,31.30) scale(1,1.0)" font-family="'Liberation Serif', serif" font-weight="bold" font-size="43.6" text-anchor="start" letter-spacing="1.4" >(a)</text>
<text transform="translate(104.60,105.20) scale(1,1.05)" font-family="'Liberation Serif', serif" font-weight="bold" font-size="35.2" text-anchor="end" >10<tspan font-size="23.5" dy="-13.6">-7</tspan><tspan dy="13.6" font-size="1">&#8203;</tspan></text>
<text transform="translate(104.60,187.00) scale(1,1.05)" font-family="'Liberation Serif', serif" font-weight="bold" font-size="35.2" text-anchor="end" >10<tspan font-size="23.5" dy="-13.6">-9</tspan><tspan dy="13.6" font-size="1">&#8203;</tspan></text>
<text transform="translate(104.60,268.80) scale(1,1.05)" font-family="'Liberation Serif', serif" font-weight="bold" font-size="35.2" text-anchor="end" >10<tspan font-size="23.5" dy="-13.6">-11</tspan><tspan dy="13.6" font-size="1">&#8203;</tspan></text>
<text transform="translate(104.60,350.60) scale(1,1.05)" font-family="'Liberation Serif', serif" font-weight="bold" font-size="35.2" text-anchor="end" >10<tspan font-size="23.5" dy="-13.6">-13</tspan><tspan dy="13.6" font-size="1">&#8203;</tspan></text>
<text transform="translate(104.60,432.40) scale(1,1.05)" font-family="'Liberation Serif', serif" font-weight="bold" font-size="35.2" text-anchor="end" >10<tspan font-size="23.5" dy="-13.6">-15</tspan><tspan dy="13.6" font-size="1">&#8203;</tspan></text>
<text transform="translate(129.50,449.50) scale(1,1.01)" font-family="'Liberation Serif', serif" font-weight="bold" font-size="35.2" text-anchor="middle" >-2</text>
<text transform="translate(234.70,449.50) scale(1,1.01)" font-family="'Liberation Serif', serif" font-weight="bold" font-size="35.2" text-anchor="middle" >-1</text>
<text transform="translate(340.50,449.50) scale(1,1.01)" font-family="'Liberation Serif', serif" font-weight="bold" font-size="35.2" text-anchor="middle" >0</text>
<text transform="translate(445.70,449.50) scale(1,1.01)" font-family="'Liberation Serif', serif" font-weight="bold" font-size="35.2" text-anchor="middle" >1</text>
<text transform="translate(226.80,481.60) scale(1,1.0)" font-family="'Liberation Serif', serif" font-weight="bold" font-size="35" text-anchor="start" ><tspan font-style="italic">V</tspan><tspan font-size="23.5" dy="9.1">GS</tspan><tspan dy="-9.1" font-size="1">&#8203;</tspan> (V)</text>
<text transform="translate(25.20,218.50) rotate(-90) scale(1,1.0)" font-family="'Liberation Serif', serif" font-weight="bold" font-size="34.5" text-anchor="middle"><tspan font-style="italic">I</tspan><tspan dx="1.5"> (A/&#956;m)</tspan></text>
<line x1="502.10" y1="3.00" x2="502.10" y2="413.00" stroke="#bcbcbc" stroke-width="1.1" stroke-linecap="butt" />
<line x1="597.25" y1="342.30" x2="605.80" y2="342.30" stroke="#000000" stroke-width="4" stroke-linecap="butt" />
<line x1="986.00" y1="342.30" x2="977.50" y2="342.30" stroke="#000000" stroke-width="4" stroke-linecap="butt" />
<line x1="597.25" y1="257.64" x2="605.80" y2="257.64" stroke="#000000" stroke-width="4" stroke-linecap="butt" />
<line x1="986.00" y1="257.64" x2="977.50" y2="257.64" stroke="#000000" stroke-width="4" stroke-linecap="butt" />
<line x1="597.25" y1="172.98" x2="605.80" y2="172.98" stroke="#000000" stroke-width="4" stroke-linecap="butt" />
<line x1="986.00" y1="172.98" x2="977.50" y2="172.98" stroke="#000000" stroke-width="4" stroke-linecap="butt" />
<line x1="597.25" y1="88.32" x2="605.80" y2="88.32" stroke="#000000" stroke-width="4" stroke-linecap="butt" />
<line x1="986.00" y1="88.32" x2="977.50" y2="88.32" stroke="#000000" stroke-width="4" stroke-linecap="butt" />
<line x1="597.25" y1="384.63" x2="601.20" y2="384.63" stroke="#000000" stroke-width="3.8" stroke-linecap="butt" />
<line x1="986.00" y1="384.63" x2="982.20" y2="384.63" stroke="#000000" stroke-width="3.8" stroke-linecap="butt" />
<line x1="597.25" y1="299.97" x2="601.20" y2="299.97" stroke="#000000" stroke-width="3.8" stroke-linecap="butt" />
<line x1="986.00" y1="299.97" x2="982.20" y2="299.97" stroke="#000000" stroke-width="3.8" stroke-linecap="butt" />
<line x1="597.25" y1="215.31" x2="601.20" y2="215.31" stroke="#000000" stroke-width="3.8" stroke-linecap="butt" />
<line x1="986.00" y1="215.31" x2="982.20" y2="215.31" stroke="#000000" stroke-width="3.8" stroke-linecap="butt" />
<line x1="597.25" y1="130.65" x2="601.20" y2="130.65" stroke="#000000" stroke-width="3.8" stroke-linecap="butt" />
<line x1="986.00" y1="130.65" x2="982.20" y2="130.65" stroke="#000000" stroke-width="3.8" stroke-linecap="butt" />
<line x1="597.25" y1="45.99" x2="601.20" y2="45.99" stroke="#000000" stroke-width="3.8" stroke-linecap="butt" />
<line x1="986.00" y1="45.99" x2="982.20" y2="45.99" stroke="#000000" stroke-width="3.8" stroke-linecap="butt" />
<line x1="617.10" y1="413.75" x2="617.10" y2="405.80" stroke="#000000" stroke-width="4" stroke-linecap="butt" />
<line x1="716.70" y1="413.75" x2="716.70" y2="405.80" stroke="#000000" stroke-width="4" stroke-linecap="butt" />
<line x1="816.30" y1="413.75" x2="816.30" y2="405.80" stroke="#000000" stroke-width="4" stroke-linecap="butt" />
<line x1="915.90" y1="413.75" x2="915.90" y2="405.80" stroke="#000000" stroke-width="4" stroke-linecap="butt" />
<line x1="666.90" y1="413.75" x2="666.90" y2="409.30" stroke="#000000" stroke-width="3.5" stroke-linecap="butt" />
<line x1="766.50" y1="413.75" x2="766.50" y2="409.30" stroke="#000000" stroke-width="3.5" stroke-linecap="butt" />
<line x1="866.10" y1="413.75" x2="866.10" y2="409.30" stroke="#000000" stroke-width="3.5" stroke-linecap="butt" />
<line x1="965.70" y1="413.75" x2="965.70" y2="409.30" stroke="#000000" stroke-width="3.5" stroke-linecap="butt" />
<line x1="597.25" y1="4.20" x2="597.25" y2="416.25" stroke="#000000" stroke-width="5" stroke-linecap="butt" />
<line x1="986.00" y1="6.40" x2="986.00" y2="416.25" stroke="#000000" stroke-width="5" stroke-linecap="butt" />
<line x1="597.25" y1="6.40" x2="987.00" y2="6.40" stroke="#000000" stroke-width="4.4" stroke-linecap="butt" />
<line x1="597.25" y1="413.75" x2="986.00" y2="413.75" stroke="#000000" stroke-width="5" stroke-linecap="butt" />
<polyline points="960.0,81.5 969.4,79.7 984.0,77.5" fill="none" stroke="#000000" stroke-width="5.1" stroke-linejoin="round" stroke-linecap="round" />
<polyline points="816.6,395.3 833.7,394.8 842.4,387.8 847.4,370.2 847.4,370.2 847.8,368.1 848.4,365.4 849.1,362.1 849.8,358.4 850.5,354.4 851.2,350.2 851.8,345.8 852.5,341.0 853.1,335.9 853.7,330.6 854.4,325.3 855.0,320.0 855.6,314.8 856.2,309.6 856.9,304.3 857.5,298.9 858.1,293.3 858.7,287.6 859.3,281.6 860.0,275.4 860.6,269.1 861.2,262.7 861.9,256.3 862.5,250.0 863.1,243.7 863.7,237.4 864.3,231.1 864.9,224.9 865.5,218.8 866.2,212.9 867.0,207.1 867.8,201.5 868.6,195.9 869.5,190.5 870.3,185.3 871.2,180.4 872.0,175.8 872.8,171.4 873.6,167.2 874.4,163.2 875.3,159.2 876.3,155.3 877.4,151.3 878.5,147.4 879.7,143.6 881.0,139.8 882.4,136.2 883.8,132.8 885.3,129.5 886.9,126.4 888.5,123.4 890.2,120.5 892.0,117.8 893.8,115.2 895.7,112.8 897.7,110.5 899.7,108.4 901.9,106.4 904.0,104.5 906.3,102.7 908.6,101.0 910.9,99.4 913.3,98.0 915.8,96.6 918.5,95.2 921.3,93.9 924.3,92.6 927.3,91.3 930.5,90.0 933.9,88.8 937.5,87.6 941.4,86.4 945.9,85.2 951.2,83.9 956.7,82.6 961.8,81.4 966.3,80.4 969.4,79.7" fill="none" stroke="#e6000f" stroke-width="5.1" stroke-linejoin="round" stroke-linecap="round" />
<polyline points="766.7,395.3 783.6,394.8 792.3,391.5 798.6,372.7 798.6,372.7 799.0,370.3 799.6,367.2 800.3,363.3 801.0,359.1 801.7,354.7 802.4,350.2 803.0,345.7 803.6,341.1 804.2,336.2 804.8,331.1 805.4,325.7 806.1,320.0 806.9,313.7 807.8,306.7 808.8,299.4 809.7,292.2 810.5,285.6 811.1,280.0 811.4,275.7 811.6,272.5 811.6,269.9 811.5,267.3 811.7,264.1 812.0,259.8 812.6,254.2 813.4,247.6 814.2,240.5 815.2,233.3 816.1,226.3 817.0,220.0 817.8,214.4 818.6,209.1 819.4,204.1 820.3,199.3 821.1,194.7 822.0,190.0 822.9,185.4 823.9,180.9 824.9,176.5 825.9,172.2 826.9,168.1 828.0,164.0 829.1,160.0 830.3,156.0 831.6,152.2 832.8,148.5 833.9,145.1 835.0,142.0 835.9,139.4 836.5,137.3 837.1,135.5 837.8,133.6 838.6,131.5 839.8,129.0 841.3,125.8 843.0,122.2 844.9,118.3 846.9,114.5 849.0,110.8 851.2,107.7 853.4,105.1 855.7,102.7 858.2,100.7 860.7,98.8 863.4,97.0 866.2,95.2 869.2,93.5 872.3,91.9 875.6,90.4 879.0,89.0 882.6,87.7 886.3,86.4 890.1,85.2 894.1,84.1 898.2,83.0 902.4,82.0 906.8,81.1 911.3,80.2 916.1,79.4 921.1,78.6 926.3,77.8 931.6,77.1 936.6,76.5 941.4,75.9 946.2,75.4 951.0,74.8 955.8,74.4 960.1,74.0 963.7,73.7 966.4,73.4" fill="none" stroke="#2e6aa2" stroke-width="5.1" stroke-linejoin="round" stroke-linecap="round" />
<polyline points="717.1,395.4 736.9,395.0 746.8,393.2 755.9,373.3 755.9,373.3 756.4,370.7 757.1,367.2 757.9,362.9 758.8,358.2 759.6,353.2 760.4,348.1 761.0,342.7 761.6,336.9 762.2,330.8 762.8,324.5 763.4,318.2 764.0,312.1 764.7,305.9 765.6,299.3 766.4,292.8 767.2,286.6 767.9,280.9 768.5,276.0 768.8,272.4 769.0,270.0 769.1,268.1 769.1,266.2 769.3,263.6 769.6,259.8 770.1,254.4 770.8,247.9 771.6,240.8 772.4,233.4 773.2,226.3 774.0,220.0 774.8,214.4 775.6,209.1 776.5,204.1 777.3,199.3 778.2,194.7 779.0,190.0 779.8,185.4 780.6,180.8 781.4,176.4 782.3,172.1 783.1,167.9 784.0,164.0 784.9,160.3 785.9,156.8 786.8,153.5 787.8,150.3 788.9,147.1 790.0,144.0 791.2,140.8 792.4,137.7 793.8,134.6 795.1,131.6 796.5,128.7 798.0,126.0 799.5,123.4 801.1,121.0 802.8,118.6 804.4,116.4 806.2,114.2 808.0,112.0 809.8,109.9 811.6,107.8 813.4,105.8 815.3,103.9 817.5,101.9 820.0,100.0 822.8,98.0 826.0,95.9 829.3,93.9 832.8,91.9 836.3,90.1 839.8,88.5 843.2,87.2 846.5,86.1 849.9,85.2 853.4,84.4 857.1,83.6 861.2,82.7 865.7,81.8 870.4,80.9 875.4,80.1 880.6,79.2 885.9,78.5 891.3,77.7 896.8,77.0 902.4,76.3 908.2,75.6 914.2,75.0 920.2,74.4 926.4,73.9 933.2,73.4 940.9,72.9 948.6,72.4 955.8,72.0 962.0,71.7 966.4,71.4" fill="none" stroke="#fcc116" stroke-width="5.1" stroke-linejoin="round" stroke-linecap="round" />
<polyline points="667.0,395.6 689.2,395.3 700.9,389.5 705.4,366.1 705.4,366.1 706.0,362.6 706.8,357.6 707.8,351.8 708.9,345.6 709.9,339.4 710.8,333.7 711.6,328.6 712.4,323.7 713.1,318.9 713.8,314.0 714.6,308.7 715.3,303.0 716.1,296.7 716.8,290.0 717.6,283.0 718.3,275.8 719.1,268.6 719.8,261.6 720.5,254.5 721.2,247.3 721.9,240.1 722.6,233.0 723.3,226.3 724.0,220.0 724.8,214.2 725.6,208.8 726.5,203.8 727.4,199.0 728.2,194.4 729.0,190.0 729.7,185.8 730.4,181.9 731.0,178.2 731.6,174.7 732.3,171.3 733.0,168.0 733.8,164.8 734.5,161.7 735.3,158.8 736.1,155.9 737.0,153.0 738.0,150.0 739.0,147.0 740.1,143.9 741.2,140.8 742.4,137.7 743.7,134.8 745.0,132.0 746.3,129.4 747.7,127.0 749.2,124.6 750.7,122.4 752.3,120.2 754.0,118.0 755.8,115.9 757.6,113.8 759.4,111.8 761.4,109.9 763.6,107.9 766.0,106.0 768.6,104.1 771.5,102.1 774.5,100.2 777.6,98.3 780.8,96.6 784.0,95.0 787.0,93.6 789.9,92.4 792.9,91.3 796.1,90.2 799.7,89.1 804.0,88.0 809.2,86.8 815.1,85.5 821.5,84.2 828.0,83.0 834.2,81.8 839.8,80.8 844.8,79.9 849.3,79.0 853.7,78.3 857.8,77.6 862.0,77.0 866.2,76.4 870.5,75.9 874.7,75.6 878.8,75.3 883.0,75.0 887.1,74.7 891.3,74.4 895.8,74.0 900.6,73.6 905.4,73.1 909.8,72.7 913.6,72.4 916.3,72.1" fill="none" stroke="#3cbf73" stroke-width="5.1" stroke-linejoin="round" stroke-linecap="round" />
<polyline points="617.0,395.8 669.4,394.6 675.7,376.9 675.7,376.9 676.5,374.4 677.7,370.8 679.1,366.7 680.5,362.2 681.8,357.7 682.9,353.5 683.7,349.7 684.4,346.2 684.9,342.6 685.4,338.8 685.9,334.7 686.5,330.1 687.1,324.8 687.7,319.0 688.2,312.8 688.8,306.5 689.4,300.2 690.1,294.0 690.8,288.0 691.6,282.1 692.4,276.1 693.1,270.1 693.9,264.1 694.6,258.0 695.2,251.7 695.8,245.2 696.3,238.6 696.8,232.1 697.4,225.9 698.0,220.0 698.7,214.4 699.5,209.1 700.4,204.0 701.3,199.1 702.1,194.4 703.0,190.0 703.8,185.8 704.6,181.9 705.4,178.2 706.3,174.7 707.1,171.3 708.0,168.0 708.9,164.7 709.9,161.6 710.8,158.6 711.8,155.7 712.9,152.8 714.0,150.0 715.2,147.2 716.4,144.4 717.8,141.8 719.1,139.1 720.5,136.5 722.0,134.0 723.5,131.5 725.1,129.1 726.8,126.8 728.4,124.4 730.2,122.2 732.0,120.0 733.8,117.9 735.7,115.8 737.6,113.8 739.6,111.9 741.7,109.9 744.0,108.0 746.4,106.1 748.9,104.2 751.5,102.3 754.2,100.5 757.1,98.7 760.0,97.0 763.1,95.3 766.4,93.7 769.8,92.1 773.2,90.6 776.6,89.2 780.0,88.0 783.2,87.0 786.2,86.2 789.1,85.5 792.3,84.9 795.9,84.3 800.0,83.6 804.8,82.8 810.3,81.9 816.1,81.0 822.1,80.1 828.0,79.3 833.7,78.6 839.5,77.9 845.8,77.3 852.0,76.8 857.7,76.3 862.5,75.9 866.0,75.6" fill="none" stroke="#6b6ba3" stroke-width="5.1" stroke-linejoin="round" stroke-linecap="round" />
<polyline points="616.2,395.8 656.8,395.3 669.4,369.7 669.4,369.7 669.9,367.5 670.6,364.6 671.4,361.2 672.3,357.2 673.1,352.8 673.9,348.1 674.5,343.0 675.1,337.5 675.7,331.6 676.3,325.3 676.9,318.8 677.5,312.1 678.2,304.8 679.0,296.7 679.8,288.4 680.6,280.3 681.4,273.0 682.0,267.0 682.5,262.7 682.9,259.7 683.2,257.6 683.5,255.6 683.9,253.3 684.3,250.0 684.8,245.8 685.4,241.0 686.0,235.8 686.6,230.5 687.3,225.2 688.0,220.0 688.8,214.9 689.6,209.6 690.5,204.2 691.4,199.1 692.2,194.3 693.0,190.0 693.7,186.3 694.4,183.1 695.0,180.2 695.6,177.6 696.3,174.9 697.0,172.0 697.8,169.0 698.6,165.9 699.4,162.9 700.2,159.9 701.1,156.9 702.0,154.0 702.9,151.2 703.9,148.4 704.9,145.6 705.9,143.0 706.9,140.4 708.0,138.0 709.1,135.8 710.2,133.7 711.3,131.8 712.5,129.9 713.7,128.0 715.0,126.0 716.3,124.0 717.7,122.0 719.2,119.9 720.7,117.9 722.3,115.9 724.0,114.0 725.8,112.1 727.6,110.2 729.6,108.4 731.6,106.6 733.7,104.8 736.0,103.0 738.3,101.2 740.7,99.5 743.2,97.8 745.9,96.1 748.8,94.5 752.0,93.0 755.5,91.6 759.4,90.3 763.5,89.1 767.7,88.0 771.9,87.0 776.0,86.0 779.9,85.2 783.6,84.4 787.4,83.8 791.3,83.2 795.4,82.6 800.0,82.0 805.1,81.3 810.6,80.6 816.3,79.9 822.2,79.2 828.0,78.6 833.7,78.0 839.6,77.4 845.8,76.9 852.1,76.3 857.8,75.9 862.7,75.5 866.2,75.2" fill="none" stroke="#fb6a6d" stroke-width="5.1" stroke-linejoin="round" stroke-linecap="round" />
<line x1="668.00" y1="318.80" x2="880.80" y2="318.80" stroke="#8a8a8a" stroke-width="5.7" stroke-linecap="butt" />
<polygon points="642,318.7 668.6,311.8 668.6,325.6" fill="#8a8a8a" stroke="#8a8a8a" stroke-width="3" stroke-linejoin="round"/>
<rect x="608.80" y="2.00" width="366.20" height="62.40" fill="#ffffff" stroke="#111" stroke-width="1.5" />
<text transform="translate(611.60,25.60) scale(1,1.0)" font-family="'Liberation Serif', serif" font-weight="bold" font-size="22.3" text-anchor="start" ><tspan font-size="20"><tspan font-style="italic">E</tspan></tspan><tspan font-size="12.5" dy="4.5">FE</tspan><tspan dy="-4.5" font-size="1">&#8203;</tspan><tspan font-size="22.3"> (MV/cm)</tspan></text>
<line x1="739.80" y1="18.90" x2="782.00" y2="18.90" stroke="#000000" stroke-width="5.8" stroke-linecap="butt" />
<text transform="translate(794.70,26.20) scale(1,1.06)" font-family="'Liberation Serif', serif" font-weight="bold" font-size="22.5" text-anchor="middle" >0</text>
<line x1="806.00" y1="18.90" x2="849.75" y2="18.90" stroke="#e6000f" stroke-width="5.8" stroke-linecap="butt" />
<text transform="translate(869.70,26.20) scale(1,1.06)" font-family="'Liberation Serif', serif" font-weight="bold" font-size="22.5" text-anchor="middle" >1.8</text>
<line x1="889.75" y1="18.90" x2="932.25" y2="18.90" stroke="#2e6aa2" stroke-width="5.8" stroke-linecap="butt" />
<text transform="translate(952.00,26.20) scale(1,1.06)" font-family="'Liberation Serif', serif" font-weight="bold" font-size="22.5" text-anchor="middle" >2.3</text>
<line x1="612.30" y1="50.50" x2="655.40" y2="50.50" stroke="#fcc116" stroke-width="5.8" stroke-linecap="butt" />
<text transform="translate(675.60,57.10) scale(1,1.06)" font-family="'Liberation Serif', serif" font-weight="bold" font-size="22.5" text-anchor="middle" >2.6</text>
<line x1="695.30" y1="50.50" x2="739.00" y2="50.50" stroke="#3cbf73" stroke-width="5.8" stroke-linecap="butt" />
<text transform="translate(758.30,57.10) scale(1,1.06)" font-family="'Liberation Serif', serif" font-weight="bold" font-size="22.5" text-anchor="middle" >3.3</text>
<line x1="779.00" y1="50.50" x2="821.75" y2="50.50" stroke="#6b6ba3" stroke-width="5.8" stroke-linecap="butt" />
<text transform="translate(842.20,57.10) scale(1,1.06)" font-family="'Liberation Serif', serif" font-weight="bold" font-size="22.5" text-anchor="middle" >4.4</text>
<line x1="862.25" y1="50.50" x2="906.00" y2="50.50" stroke="#fb6a6d" stroke-width="5.8" stroke-linecap="butt" />
<text transform="translate(925.70,57.10) scale(1,1.06)" font-family="'Liberation Serif', serif" font-weight="bold" font-size="22.5" text-anchor="middle" >8.8</text>
<text transform="translate(611.00,107.70) scale(1,1.0)" font-family="'Liberation Serif', serif" font-weight="bold" font-size="36" text-anchor="start" ><tspan font-style="italic">t</tspan><tspan font-size="23.5" dy="7.7">w</tspan><tspan dy="-7.7" font-size="1">&#8203;</tspan>=1 &#956;s</text>
<text transform="translate(867.30,379.80) scale(1,1.03)" font-family="'Liberation Serif', serif" font-weight="bold" font-size="35.4" text-anchor="start" >10 kHz</text>
<text transform="translate(525.50,31.30) scale(1,1.0)" font-family="'Liberation Serif', serif" font-weight="bold" font-size="43.6" text-anchor="start" letter-spacing="1.4" >(b)</text>
<text transform="translate(586.60,353.00) scale(1,1.01)" font-family="'Liberation Serif', serif" font-weight="bold" font-size="34.8" text-anchor="end" >0.3</text>
<text transform="translate(586.60,268.34) scale(1,1.01)" font-family="'Liberation Serif', serif" font-weight="bold" font-size="34.8" text-anchor="end" >0.6</text>
<text transform="translate(586.60,183.68) scale(1,1.01)" font-family="'Liberation Serif', serif" font-weight="bold" font-size="34.8" text-anchor="end" >0.9</text>
<text transform="translate(586.60,99.02) scale(1,1.01)" font-family="'Liberation Serif', serif" font-weight="bold" font-size="34.8" text-anchor="end" >1.2</text>
<text transform="translate(616.10,450.30) scale(1,1.01)" font-family="'Liberation Serif', serif" font-weight="bold" font-size="35.2" text-anchor="middle" >-2</text>
<text transform="translate(715.70,450.30) scale(1,1.01)" font-family="'Liberation Serif', serif" font-weight="bold" font-size="35.2" text-anchor="middle" >-1</text>
<text transform="translate(815.90,450.30) scale(1,1.01)" font-family="'Liberation Serif', serif" font-weight="bold" font-size="35.2" text-anchor="middle" >0</text>
<text transform="translate(915.50,450.30) scale(1,1.01)" font-family="'Liberation Serif', serif" font-weight="bold" font-size="35.2" text-anchor="middle" >1</text>
<text transform="translate(726.30,481.20) scale(1,1.0)" font-family="'Liberation Serif', serif" font-weight="bold" font-size="35" text-anchor="start" ><tspan font-style="italic">V</tspan><tspan font-size="23.5" dy="9.1">GS</tspan><tspan dy="-9.1" font-size="1">&#8203;</tspan> (V)</text>
<text transform="translate(532.50,224.00) rotate(-90) scale(1,1.0)" font-family="'Liberation Serif', serif" font-weight="bold" font-size="34" text-anchor="middle"><tspan font-style="italic">C</tspan> (&#956;F/cm<tspan font-size="22" dy="-13.5">2</tspan><tspan dy="13.5" font-size="1">&#8203;</tspan>)</text>
<polygon points="284,567 376,567 376,735 422,735 330,828 238,735 284,735" fill="#bccde9"/>
<clipPath id="clipc"><rect x="102.4" y="496" width="391.4" height="410"/></clipPath>
<line x1="122.00" y1="496.20" x2="122.00" y2="502.40" stroke="#000000" stroke-width="4.6" stroke-linecap="butt" />
<line x1="122.00" y1="907.40" x2="122.00" y2="901.60" stroke="#000000" stroke-width="4.6" stroke-linecap="butt" />
<line x1="150.20" y1="496.20" x2="150.20" y2="502.40" stroke="#000000" stroke-width="4.6" stroke-linecap="butt" />
<line x1="150.20" y1="907.40" x2="150.20" y2="901.60" stroke="#000000" stroke-width="4.6" stroke-linecap="butt" />
<line x1="175.20" y1="496.20" x2="175.20" y2="502.40" stroke="#000000" stroke-width="4.6" stroke-linecap="butt" />
<line x1="175.20" y1="907.40" x2="175.20" y2="901.60" stroke="#000000" stroke-width="4.6" stroke-linecap="butt" />
<line x1="216.10" y1="496.20" x2="216.10" y2="502.40" stroke="#000000" stroke-width="4.6" stroke-linecap="butt" />
<line x1="216.10" y1="907.40" x2="216.10" y2="901.60" stroke="#000000" stroke-width="4.6" stroke-linecap="butt" />
<line x1="234.10" y1="496.20" x2="234.10" y2="502.40" stroke="#000000" stroke-width="4.6" stroke-linecap="butt" />
<line x1="234.10" y1="907.40" x2="234.10" y2="901.60" stroke="#000000" stroke-width="4.6" stroke-linecap="butt" />
<line x1="249.90" y1="496.20" x2="249.90" y2="502.40" stroke="#000000" stroke-width="4.6" stroke-linecap="butt" />
<line x1="249.90" y1="907.40" x2="249.90" y2="901.60" stroke="#000000" stroke-width="4.6" stroke-linecap="butt" />
<line x1="264.40" y1="496.20" x2="264.40" y2="502.40" stroke="#000000" stroke-width="4.6" stroke-linecap="butt" />
<line x1="264.40" y1="907.40" x2="264.40" y2="901.60" stroke="#000000" stroke-width="4.6" stroke-linecap="butt" />
<line x1="277.70" y1="496.20" x2="277.70" y2="502.40" stroke="#000000" stroke-width="4.6" stroke-linecap="butt" />
<line x1="277.70" y1="907.40" x2="277.70" y2="901.60" stroke="#000000" stroke-width="4.6" stroke-linecap="butt" />
<line x1="290.40" y1="496.20" x2="290.40" y2="502.40" stroke="#000000" stroke-width="4.6" stroke-linecap="butt" />
<line x1="290.40" y1="907.40" x2="290.40" y2="901.60" stroke="#000000" stroke-width="4.6" stroke-linecap="butt" />
<line x1="303.20" y1="496.20" x2="303.20" y2="502.40" stroke="#000000" stroke-width="4.6" stroke-linecap="butt" />
<line x1="303.20" y1="907.40" x2="303.20" y2="901.60" stroke="#000000" stroke-width="4.6" stroke-linecap="butt" />
<line x1="314.40" y1="496.20" x2="314.40" y2="502.40" stroke="#000000" stroke-width="4.6" stroke-linecap="butt" />
<line x1="314.40" y1="907.40" x2="314.40" y2="901.60" stroke="#000000" stroke-width="4.6" stroke-linecap="butt" />
<line x1="334.50" y1="496.20" x2="334.50" y2="502.40" stroke="#000000" stroke-width="4.6" stroke-linecap="butt" />
<line x1="334.50" y1="907.40" x2="334.50" y2="901.60" stroke="#000000" stroke-width="4.6" stroke-linecap="butt" />
<line x1="343.50" y1="496.20" x2="343.50" y2="502.40" stroke="#000000" stroke-width="4.6" stroke-linecap="butt" />
<line x1="343.50" y1="907.40" x2="343.50" y2="901.60" stroke="#000000" stroke-width="4.6" stroke-linecap="butt" />
<line x1="352.30" y1="496.20" x2="352.30" y2="502.40" stroke="#000000" stroke-width="4.6" stroke-linecap="butt" />
<line x1="352.30" y1="907.40" x2="352.30" y2="901.60" stroke="#000000" stroke-width="4.6" stroke-linecap="butt" />
<line x1="361.00" y1="496.20" x2="361.00" y2="502.40" stroke="#000000" stroke-width="4.6" stroke-linecap="butt" />
<line x1="361.00" y1="907.40" x2="361.00" y2="901.60" stroke="#000000" stroke-width="4.6" stroke-linecap="butt" />
<line x1="369.20" y1="496.20" x2="369.20" y2="502.40" stroke="#000000" stroke-width="4.6" stroke-linecap="butt" />
<line x1="369.20" y1="907.40" x2="369.20" y2="901.60" stroke="#000000" stroke-width="4.6" stroke-linecap="butt" />
<line x1="377.40" y1="496.20" x2="377.40" y2="502.40" stroke="#000000" stroke-width="4.6" stroke-linecap="butt" />
<line x1="377.40" y1="907.40" x2="377.40" y2="901.60" stroke="#000000" stroke-width="4.6" stroke-linecap="butt" />
<line x1="385.00" y1="496.20" x2="385.00" y2="502.40" stroke="#000000" stroke-width="4.6" stroke-linecap="butt" />
<line x1="385.00" y1="907.40" x2="385.00" y2="901.60" stroke="#000000" stroke-width="4.6" stroke-linecap="butt" />
<line x1="392.20" y1="496.20" x2="392.20" y2="502.40" stroke="#000000" stroke-width="4.6" stroke-linecap="butt" />
<line x1="392.20" y1="907.40" x2="392.20" y2="901.60" stroke="#000000" stroke-width="4.6" stroke-linecap="butt" />
<line x1="406.50" y1="496.20" x2="406.50" y2="502.40" stroke="#000000" stroke-width="4.6" stroke-linecap="butt" />
<line x1="406.50" y1="907.40" x2="406.50" y2="901.60" stroke="#000000" stroke-width="4.6" stroke-linecap="butt" />
<line x1="412.60" y1="496.20" x2="412.60" y2="502.40" stroke="#000000" stroke-width="4.6" stroke-linecap="butt" />
<line x1="412.60" y1="907.40" x2="412.60" y2="901.60" stroke="#000000" stroke-width="4.6" stroke-linecap="butt" />
<line x1="418.70" y1="496.20" x2="418.70" y2="502.40" stroke="#000000" stroke-width="4.6" stroke-linecap="butt" />
<line x1="418.70" y1="907.40" x2="418.70" y2="901.60" stroke="#000000" stroke-width="4.6" stroke-linecap="butt" />
<line x1="424.90" y1="496.20" x2="424.90" y2="502.40" stroke="#000000" stroke-width="4.6" stroke-linecap="butt" />
<line x1="424.90" y1="907.40" x2="424.90" y2="901.60" stroke="#000000" stroke-width="4.6" stroke-linecap="butt" />
<line x1="430.40" y1="496.20" x2="430.40" y2="502.40" stroke="#000000" stroke-width="4.6" stroke-linecap="butt" />
<line x1="430.40" y1="907.40" x2="430.40" y2="901.60" stroke="#000000" stroke-width="4.6" stroke-linecap="butt" />
<line x1="436.10" y1="496.20" x2="436.10" y2="502.40" stroke="#000000" stroke-width="4.6" stroke-linecap="butt" />
<line x1="436.10" y1="907.40" x2="436.10" y2="901.60" stroke="#000000" stroke-width="4.6" stroke-linecap="butt" />
<line x1="441.30" y1="496.20" x2="441.30" y2="502.40" stroke="#000000" stroke-width="4.6" stroke-linecap="butt" />
<line x1="441.30" y1="907.40" x2="441.30" y2="901.60" stroke="#000000" stroke-width="4.6" stroke-linecap="butt" />
<line x1="446.40" y1="496.20" x2="446.40" y2="502.40" stroke="#000000" stroke-width="4.6" stroke-linecap="butt" />
<line x1="446.40" y1="907.40" x2="446.40" y2="901.60" stroke="#000000" stroke-width="4.6" stroke-linecap="butt" />
<line x1="456.60" y1="496.20" x2="456.60" y2="502.40" stroke="#000000" stroke-width="4.6" stroke-linecap="butt" />
<line x1="456.60" y1="907.40" x2="456.60" y2="901.60" stroke="#000000" stroke-width="4.6" stroke-linecap="butt" />
<line x1="460.45" y1="496.20" x2="460.45" y2="502.40" stroke="#000000" stroke-width="4.6" stroke-linecap="butt" />
<line x1="460.45" y1="907.40" x2="460.45" y2="901.60" stroke="#000000" stroke-width="4.6" stroke-linecap="butt" />
<line x1="464.07" y1="496.20" x2="464.07" y2="502.40" stroke="#000000" stroke-width="4.6" stroke-linecap="butt" />
<line x1="464.07" y1="907.40" x2="464.07" y2="901.60" stroke="#000000" stroke-width="4.6" stroke-linecap="butt" />
<line x1="467.47" y1="496.20" x2="467.47" y2="502.40" stroke="#000000" stroke-width="4.6" stroke-linecap="butt" />
<line x1="467.47" y1="907.40" x2="467.47" y2="901.60" stroke="#000000" stroke-width="4.6" stroke-linecap="butt" />
<line x1="470.65" y1="496.20" x2="470.65" y2="502.40" stroke="#000000" stroke-width="4.6" stroke-linecap="butt" />
<line x1="470.65" y1="907.40" x2="470.65" y2="901.60" stroke="#000000" stroke-width="4.6" stroke-linecap="butt" />
<line x1="473.62" y1="496.20" x2="473.62" y2="502.40" stroke="#000000" stroke-width="4.6" stroke-linecap="butt" />
<line x1="473.62" y1="907.40" x2="473.62" y2="901.60" stroke="#000000" stroke-width="4.6" stroke-linecap="butt" />
<line x1="476.41" y1="496.20" x2="476.41" y2="502.40" stroke="#000000" stroke-width="4.6" stroke-linecap="butt" />
<line x1="476.41" y1="907.40" x2="476.41" y2="901.60" stroke="#000000" stroke-width="4.6" stroke-linecap="butt" />
<line x1="479.00" y1="496.20" x2="479.00" y2="502.40" stroke="#000000" stroke-width="4.6" stroke-linecap="butt" />
<line x1="479.00" y1="907.40" x2="479.00" y2="901.60" stroke="#000000" stroke-width="4.6" stroke-linecap="butt" />
<line x1="481.42" y1="496.20" x2="481.42" y2="502.40" stroke="#000000" stroke-width="4.6" stroke-linecap="butt" />
<line x1="481.42" y1="907.40" x2="481.42" y2="901.60" stroke="#000000" stroke-width="4.6" stroke-linecap="butt" />
<line x1="196.60" y1="496.20" x2="196.60" y2="509.30" stroke="#000000" stroke-width="5" stroke-linecap="butt" />
<line x1="196.60" y1="907.40" x2="196.60" y2="894.80" stroke="#000000" stroke-width="5" stroke-linecap="butt" />
<line x1="324.70" y1="496.20" x2="324.70" y2="509.30" stroke="#000000" stroke-width="5" stroke-linecap="butt" />
<line x1="324.70" y1="907.40" x2="324.70" y2="894.80" stroke="#000000" stroke-width="5" stroke-linecap="butt" />
<line x1="399.40" y1="496.20" x2="399.40" y2="509.30" stroke="#000000" stroke-width="5" stroke-linecap="butt" />
<line x1="399.40" y1="907.40" x2="399.40" y2="894.80" stroke="#000000" stroke-width="5" stroke-linecap="butt" />
<line x1="452.50" y1="496.20" x2="452.50" y2="509.30" stroke="#000000" stroke-width="5" stroke-linecap="butt" />
<line x1="452.50" y1="907.40" x2="452.50" y2="894.80" stroke="#000000" stroke-width="5" stroke-linecap="butt" />
<line x1="102.90" y1="535.30" x2="115.50" y2="535.30" stroke="#000000" stroke-width="5" stroke-linecap="butt" />
<line x1="493.60" y1="535.30" x2="480.20" y2="535.30" stroke="#000000" stroke-width="5" stroke-linecap="butt" />
<line x1="102.90" y1="633.70" x2="115.50" y2="633.70" stroke="#000000" stroke-width="5" stroke-linecap="butt" />
<line x1="493.60" y1="633.70" x2="480.20" y2="633.70" stroke="#000000" stroke-width="5" stroke-linecap="butt" />
<line x1="102.90" y1="732.10" x2="115.50" y2="732.10" stroke="#000000" stroke-width="5" stroke-linecap="butt" />
<line x1="493.60" y1="732.10" x2="480.20" y2="732.10" stroke="#000000" stroke-width="5" stroke-linecap="butt" />
<line x1="102.90" y1="830.50" x2="115.50" y2="830.50" stroke="#000000" stroke-width="5" stroke-linecap="butt" />
<line x1="493.60" y1="830.50" x2="480.20" y2="830.50" stroke="#000000" stroke-width="5" stroke-linecap="butt" />
<line x1="102.90" y1="584.50" x2="109.00" y2="584.50" stroke="#000000" stroke-width="5" stroke-linecap="butt" />
<line x1="493.60" y1="584.50" x2="487.00" y2="584.50" stroke="#000000" stroke-width="5" stroke-linecap="butt" />
<line x1="102.90" y1="682.90" x2="109.00" y2="682.90" stroke="#000000" stroke-width="5" stroke-linecap="butt" />
<line x1="493.60" y1="682.90" x2="487.00" y2="682.90" stroke="#000000" stroke-width="5" stroke-linecap="butt" />
<line x1="102.90" y1="781.30" x2="109.00" y2="781.30" stroke="#000000" stroke-width="5" stroke-linecap="butt" />
<line x1="493.60" y1="781.30" x2="487.00" y2="781.30" stroke="#000000" stroke-width="5" stroke-linecap="butt" />
<line x1="102.90" y1="879.70" x2="109.00" y2="879.70" stroke="#000000" stroke-width="5" stroke-linecap="butt" />
<line x1="493.60" y1="879.70" x2="487.00" y2="879.70" stroke="#000000" stroke-width="5" stroke-linecap="butt" />
<line x1="102.90" y1="493.50" x2="102.90" y2="910.40" stroke="#000000" stroke-width="4.6" stroke-linecap="butt" />
<line x1="493.60" y1="496.20" x2="493.60" y2="910.40" stroke="#000000" stroke-width="5.3" stroke-linecap="butt" />
<line x1="102.90" y1="496.20" x2="493.60" y2="496.20" stroke="#000000" stroke-width="5.5" stroke-linecap="butt" />
<line x1="102.90" y1="907.40" x2="496.20" y2="907.40" stroke="#000000" stroke-width="6" stroke-linecap="butt" />
<g clip-path="url(#clipc)" fill="#ffffff" stroke-width="3.0">
<g stroke="#e6000f">
<rect x="84.0" y="514.0" width="16.1" height="16.1"/>
<rect x="96.2" y="519.5" width="16.1" height="16.1"/>
<rect x="108.2" y="525.2" width="16.1" height="16.1"/>
<rect x="119.9" y="535.8" width="16.1" height="16.1"/>
<rect x="131.0" y="546.4" width="16.1" height="16.1"/>
<rect x="142.0" y="556.2" width="16.1" height="16.1"/>
<rect x="152.6" y="564.3" width="16.1" height="16.1"/>
<rect x="162.6" y="571.7" width="16.1" height="16.1"/>
<rect x="171.9" y="578.7" width="16.1" height="16.1"/>
<rect x="180.7" y="587.4" width="16.1" height="16.1"/>
<rect x="189.1" y="597.9" width="16.1" height="16.1"/>
<rect x="196.9" y="607.6" width="16.1" height="16.1"/>
<rect x="204.2" y="614.9" width="16.1" height="16.1"/>
<rect x="211.1" y="621.9" width="16.1" height="16.1"/>
<rect x="217.7" y="628.4" width="16.1" height="16.1"/>
<rect x="224.1" y="634.6" width="16.1" height="16.1"/>
<rect x="230.3" y="640.8" width="16.1" height="16.1"/>
<rect x="236.3" y="646.8" width="16.1" height="16.1"/>
<rect x="242.2" y="652.7" width="16.1" height="16.1"/>
<rect x="247.8" y="658.3" width="16.1" height="16.1"/>
<rect x="253.3" y="663.8" width="16.1" height="16.1"/>
<rect x="258.6" y="669.9" width="16.1" height="16.1"/>
<rect x="263.7" y="676.0" width="16.1" height="16.1"/>
<rect x="268.8" y="680.9" width="16.1" height="16.1"/>
<rect x="273.6" y="686.4" width="16.1" height="16.1"/>
<rect x="278.4" y="691.4" width="16.1" height="16.1"/>
<rect x="283.1" y="697.1" width="16.1" height="16.1"/>
<rect x="287.6" y="702.3" width="16.1" height="16.1"/>
<rect x="292.0" y="707.3" width="16.1" height="16.1"/>
<rect x="296.3" y="712.2" width="16.1" height="16.1"/>
<rect x="300.5" y="716.9" width="16.1" height="16.1"/>
<rect x="304.7" y="721.4" width="16.1" height="16.1"/>
<rect x="308.7" y="725.8" width="16.1" height="16.1"/>
<rect x="312.7" y="730.2" width="16.1" height="16.1"/>
<rect x="316.5" y="734.3" width="16.1" height="16.1"/>
<rect x="320.3" y="738.3" width="16.1" height="16.1"/>
<rect x="324.0" y="742.3" width="16.1" height="16.1"/>
<rect x="327.7" y="746.3" width="16.1" height="16.1"/>
<rect x="331.2" y="750.2" width="16.1" height="16.1"/>
<rect x="334.7" y="753.8" width="16.1" height="16.1"/>
<rect x="338.2" y="757.4" width="16.1" height="16.1"/>
<rect x="341.5" y="760.8" width="16.1" height="16.1"/>
<rect x="344.9" y="764.4" width="16.1" height="16.1"/>
<rect x="348.1" y="767.9" width="16.1" height="16.1"/>
<rect x="351.3" y="771.3" width="16.1" height="16.1"/>
<rect x="354.5" y="774.2" width="16.1" height="16.1"/>
<rect x="357.5" y="777.0" width="16.1" height="16.1"/>
<rect x="360.6" y="779.9" width="16.1" height="16.1"/>
<rect x="363.6" y="782.8" width="16.1" height="16.1"/>
<rect x="366.5" y="785.6" width="16.1" height="16.1"/>
<rect x="369.4" y="788.3" width="16.1" height="16.1"/>
<rect x="372.3" y="790.9" width="16.1" height="16.1"/>
<rect x="375.1" y="793.5" width="16.1" height="16.1"/>
<rect x="377.9" y="796.1" width="16.1" height="16.1"/>
<rect x="380.6" y="798.6" width="16.1" height="16.1"/>
<rect x="383.3" y="801.1" width="16.1" height="16.1"/>
<rect x="385.9" y="803.6" width="16.1" height="16.1"/>
<rect x="388.5" y="806.1" width="16.1" height="16.1"/>
<rect x="391.1" y="808.5" width="16.1" height="16.1"/>
<rect x="393.6" y="810.9" width="16.1" height="16.1"/>
<rect x="396.1" y="813.2" width="16.1" height="16.1"/>
<rect x="398.6" y="815.5" width="16.1" height="16.1"/>
<rect x="401.1" y="817.6" width="16.1" height="16.1"/>
<rect x="403.5" y="819.8" width="16.1" height="16.1"/>
<rect x="405.8" y="821.9" width="16.1" height="16.1"/>
<rect x="408.2" y="823.9" width="16.1" height="16.1"/>
<rect x="410.5" y="826.0" width="16.1" height="16.1"/>
<rect x="412.8" y="828.0" width="16.1" height="16.1"/>
<rect x="415.1" y="830.0" width="16.1" height="16.1"/>
<rect x="417.3" y="832.0" width="16.1" height="16.1"/>
<rect x="419.5" y="833.9" width="16.1" height="16.1"/>
<rect x="421.7" y="835.9" width="16.1" height="16.1"/>
<rect x="423.8" y="837.8" width="16.1" height="16.1"/>
<rect x="426.0" y="839.6" width="16.1" height="16.1"/>
<rect x="428.1" y="841.4" width="16.1" height="16.1"/>
<rect x="430.2" y="843.1" width="16.1" height="16.1"/>
<rect x="432.2" y="844.7" width="16.1" height="16.1"/>
<rect x="434.2" y="846.3" width="16.1" height="16.1"/>
<rect x="436.3" y="847.9" width="16.1" height="16.1"/>
<rect x="438.3" y="849.5" width="16.1" height="16.1"/>
<rect x="440.2" y="851.1" width="16.1" height="16.1"/>
<rect x="442.2" y="852.6" width="16.1" height="16.1"/>
<rect x="444.1" y="854.2" width="16.1" height="16.1"/>
<rect x="446.0" y="855.7" width="16.1" height="16.1"/>
<rect x="447.9" y="857.2" width="16.1" height="16.1"/>
<rect x="449.8" y="858.7" width="16.1" height="16.1"/>
<rect x="451.6" y="860.1" width="16.1" height="16.1"/>
<rect x="453.5" y="861.6" width="16.1" height="16.1"/>
<rect x="455.3" y="863.1" width="16.1" height="16.1"/>
<rect x="457.1" y="864.6" width="16.1" height="16.1"/>
<rect x="458.9" y="866.1" width="16.1" height="16.1"/>
<rect x="460.6" y="867.6" width="16.1" height="16.1"/>
<rect x="462.4" y="869.1" width="16.1" height="16.1"/>
<rect x="464.1" y="870.5" width="16.1" height="16.1"/>
<rect x="465.8" y="871.9" width="16.1" height="16.1"/>
<rect x="467.5" y="873.3" width="16.1" height="16.1"/>
<rect x="469.2" y="874.7" width="16.1" height="16.1"/>
<rect x="470.9" y="876.1" width="16.1" height="16.1"/>
<rect x="472.5" y="877.5" width="16.1" height="16.1"/>
<rect x="474.2" y="878.9" width="16.1" height="16.1"/>
<rect x="475.8" y="880.2" width="16.1" height="16.1"/>
<rect x="477.4" y="881.5" width="16.1" height="16.1"/>
<rect x="479.0" y="882.8" width="16.1" height="16.1"/>
<rect x="480.6" y="884.1" width="16.1" height="16.1"/>
<rect x="482.2" y="885.4" width="16.1" height="16.1"/>
<rect x="483.7" y="886.6" width="16.1" height="16.1"/>
<rect x="485.3" y="887.9" width="16.1" height="16.1"/>
<rect x="485.9" y="888.5" width="16.1" height="16.1"/>
</g>
<g stroke="#2e6aa2">
<rect x="88.5" y="529.5" width="16.1" height="16.1"/>
<rect x="100.6" y="535.8" width="16.1" height="16.1"/>
<rect x="112.6" y="540.1" width="16.1" height="16.1"/>
<rect x="124.0" y="547.4" width="16.1" height="16.1"/>
<rect x="135.1" y="557.0" width="16.1" height="16.1"/>
<rect x="146.0" y="565.7" width="16.1" height="16.1"/>
<rect x="156.3" y="574.4" width="16.1" height="16.1"/>
<rect x="166.1" y="581.9" width="16.1" height="16.1"/>
<rect x="175.2" y="589.1" width="16.1" height="16.1"/>
<rect x="183.8" y="596.6" width="16.1" height="16.1"/>
<rect x="192.0" y="605.7" width="16.1" height="16.1"/>
<rect x="199.6" y="614.6" width="16.1" height="16.1"/>
<rect x="206.8" y="621.3" width="16.1" height="16.1"/>
<rect x="213.6" y="628.5" width="16.1" height="16.1"/>
<rect x="220.1" y="634.6" width="16.1" height="16.1"/>
<rect x="226.5" y="641.0" width="16.1" height="16.1"/>
<rect x="232.6" y="647.1" width="16.1" height="16.1"/>
<rect x="238.5" y="653.0" width="16.1" height="16.1"/>
<rect x="244.3" y="658.8" width="16.1" height="16.1"/>
<rect x="249.8" y="664.3" width="16.1" height="16.1"/>
<rect x="255.2" y="669.9" width="16.1" height="16.1"/>
<rect x="260.5" y="676.2" width="16.1" height="16.1"/>
<rect x="265.6" y="682.0" width="16.1" height="16.1"/>
<rect x="270.6" y="686.7" width="16.1" height="16.1"/>
<rect x="275.4" y="692.4" width="16.1" height="16.1"/>
<rect x="280.1" y="697.4" width="16.1" height="16.1"/>
<rect x="284.7" y="702.8" width="16.1" height="16.1"/>
<rect x="289.2" y="707.6" width="16.1" height="16.1"/>
<rect x="293.6" y="712.2" width="16.1" height="16.1"/>
<rect x="297.9" y="716.7" width="16.1" height="16.1"/>
<rect x="302.1" y="720.9" width="16.1" height="16.1"/>
<rect x="306.2" y="725.0" width="16.1" height="16.1"/>
<rect x="310.2" y="729.1" width="16.1" height="16.1"/>
<rect x="314.1" y="733.1" width="16.1" height="16.1"/>
<rect x="317.9" y="737.1" width="16.1" height="16.1"/>
<rect x="321.7" y="740.9" width="16.1" height="16.1"/>
<rect x="325.4" y="744.8" width="16.1" height="16.1"/>
<rect x="329.0" y="748.6" width="16.1" height="16.1"/>
<rect x="332.5" y="752.4" width="16.1" height="16.1"/>
<rect x="336.0" y="755.8" width="16.1" height="16.1"/>
<rect x="339.4" y="759.2" width="16.1" height="16.1"/>
<rect x="342.8" y="762.6" width="16.1" height="16.1"/>
<rect x="346.1" y="766.2" width="16.1" height="16.1"/>
<rect x="349.3" y="769.6" width="16.1" height="16.1"/>
<rect x="352.5" y="772.8" width="16.1" height="16.1"/>
<rect x="355.6" y="775.7" width="16.1" height="16.1"/>
<rect x="358.7" y="778.5" width="16.1" height="16.1"/>
<rect x="361.7" y="781.4" width="16.1" height="16.1"/>
<rect x="364.7" y="784.2" width="16.1" height="16.1"/>
<rect x="367.6" y="787.0" width="16.1" height="16.1"/>
<rect x="370.5" y="789.7" width="16.1" height="16.1"/>
<rect x="373.3" y="792.3" width="16.1" height="16.1"/>
<rect x="376.1" y="794.9" width="16.1" height="16.1"/>
<rect x="378.9" y="797.4" width="16.1" height="16.1"/>
<rect x="381.6" y="799.9" width="16.1" height="16.1"/>
<rect x="384.2" y="802.4" width="16.1" height="16.1"/>
<rect x="386.9" y="804.9" width="16.1" height="16.1"/>
<rect x="389.5" y="807.3" width="16.1" height="16.1"/>
<rect x="392.0" y="809.7" width="16.1" height="16.1"/>
<rect x="394.6" y="812.1" width="16.1" height="16.1"/>
<rect x="397.1" y="814.4" width="16.1" height="16.1"/>
<rect x="399.5" y="816.6" width="16.1" height="16.1"/>
<rect x="401.9" y="818.7" width="16.1" height="16.1"/>
<rect x="404.3" y="820.8" width="16.1" height="16.1"/>
<rect x="406.7" y="822.9" width="16.1" height="16.1"/>
<rect x="409.0" y="825.0" width="16.1" height="16.1"/>
<rect x="411.4" y="827.0" width="16.1" height="16.1"/>
<rect x="413.6" y="829.0" width="16.1" height="16.1"/>
<rect x="415.9" y="831.0" width="16.1" height="16.1"/>
<rect x="418.1" y="832.9" width="16.1" height="16.1"/>
<rect x="420.3" y="834.9" width="16.1" height="16.1"/>
<rect x="422.5" y="836.8" width="16.1" height="16.1"/>
<rect x="424.6" y="838.7" width="16.1" height="16.1"/>
<rect x="426.7" y="840.5" width="16.1" height="16.1"/>
<rect x="428.8" y="842.3" width="16.1" height="16.1"/>
<rect x="430.9" y="843.9" width="16.1" height="16.1"/>
<rect x="433.0" y="845.5" width="16.1" height="16.1"/>
<rect x="435.0" y="847.1" width="16.1" height="16.1"/>
<rect x="437.0" y="848.7" width="16.1" height="16.1"/>
<rect x="439.0" y="850.3" width="16.1" height="16.1"/>
<rect x="440.9" y="851.8" width="16.1" height="16.1"/>
<rect x="442.9" y="853.4" width="16.1" height="16.1"/>
<rect x="444.8" y="854.9" width="16.1" height="16.1"/>
<rect x="446.7" y="856.4" width="16.1" height="16.1"/>
<rect x="448.6" y="857.9" width="16.1" height="16.1"/>
<rect x="450.5" y="859.3" width="16.1" height="16.1"/>
<rect x="452.3" y="860.8" width="16.1" height="16.1"/>
<rect x="454.1" y="862.3" width="16.1" height="16.1"/>
<rect x="455.9" y="863.8" width="16.1" height="16.1"/>
<rect x="457.7" y="865.3" width="16.1" height="16.1"/>
<rect x="459.5" y="866.8" width="16.1" height="16.1"/>
<rect x="461.3" y="868.2" width="16.1" height="16.1"/>
<rect x="463.0" y="869.7" width="16.1" height="16.1"/>
<rect x="464.7" y="871.1" width="16.1" height="16.1"/>
<rect x="466.5" y="872.5" width="16.1" height="16.1"/>
<rect x="468.1" y="873.9" width="16.1" height="16.1"/>
<rect x="469.8" y="875.3" width="16.1" height="16.1"/>
<rect x="471.5" y="876.7" width="16.1" height="16.1"/>
<rect x="473.1" y="878.1" width="16.1" height="16.1"/>
<rect x="474.8" y="879.4" width="16.1" height="16.1"/>
<rect x="476.4" y="880.7" width="16.1" height="16.1"/>
<rect x="478.0" y="882.0" width="16.1" height="16.1"/>
<rect x="479.6" y="883.3" width="16.1" height="16.1"/>
<rect x="481.2" y="884.6" width="16.1" height="16.1"/>
<rect x="482.7" y="885.9" width="16.1" height="16.1"/>
<rect x="484.3" y="887.1" width="16.1" height="16.1"/>
<rect x="485.8" y="888.3" width="16.1" height="16.1"/>
<rect x="485.9" y="888.5" width="16.1" height="16.1"/>
</g>
<g stroke="#fcc116">
<rect x="87.8" y="553.0" width="16.1" height="16.1"/>
<rect x="99.9" y="556.3" width="16.1" height="16.1"/>
<rect x="112.0" y="559.7" width="16.1" height="16.1"/>
<rect x="123.4" y="567.7" width="16.1" height="16.1"/>
<rect x="134.5" y="573.7" width="16.1" height="16.1"/>
<rect x="145.3" y="577.6" width="16.1" height="16.1"/>
<rect x="155.8" y="585.1" width="16.1" height="16.1"/>
<rect x="165.5" y="590.9" width="16.1" height="16.1"/>
<rect x="174.7" y="598.8" width="16.1" height="16.1"/>
<rect x="183.4" y="606.8" width="16.1" height="16.1"/>
<rect x="191.6" y="614.0" width="16.1" height="16.1"/>
<rect x="199.2" y="620.7" width="16.1" height="16.1"/>
<rect x="206.4" y="626.9" width="16.1" height="16.1"/>
<rect x="213.2" y="634.2" width="16.1" height="16.1"/>
<rect x="219.8" y="640.3" width="16.1" height="16.1"/>
<rect x="226.1" y="646.6" width="16.1" height="16.1"/>
<rect x="232.2" y="652.7" width="16.1" height="16.1"/>
<rect x="238.2" y="658.7" width="16.1" height="16.1"/>
<rect x="243.9" y="664.4" width="16.1" height="16.1"/>
<rect x="249.5" y="670.0" width="16.1" height="16.1"/>
<rect x="254.9" y="675.5" width="16.1" height="16.1"/>
<rect x="260.2" y="681.8" width="16.1" height="16.1"/>
<rect x="265.3" y="687.8" width="16.1" height="16.1"/>
<rect x="270.3" y="692.4" width="16.1" height="16.1"/>
<rect x="275.1" y="698.1" width="16.1" height="16.1"/>
<rect x="279.9" y="701.5" width="16.1" height="16.1"/>
<rect x="284.5" y="705.7" width="16.1" height="16.1"/>
<rect x="289.0" y="710.0" width="16.1" height="16.1"/>
<rect x="293.4" y="714.1" width="16.1" height="16.1"/>
<rect x="297.6" y="718.1" width="16.1" height="16.1"/>
<rect x="301.8" y="722.0" width="16.1" height="16.1"/>
<rect x="305.9" y="725.8" width="16.1" height="16.1"/>
<rect x="309.9" y="729.6" width="16.1" height="16.1"/>
<rect x="313.9" y="733.2" width="16.1" height="16.1"/>
<rect x="317.7" y="736.7" width="16.1" height="16.1"/>
<rect x="321.5" y="740.7" width="16.1" height="16.1"/>
<rect x="325.2" y="744.6" width="16.1" height="16.1"/>
<rect x="328.8" y="748.5" width="16.1" height="16.1"/>
<rect x="332.3" y="752.4" width="16.1" height="16.1"/>
<rect x="335.8" y="755.9" width="16.1" height="16.1"/>
<rect x="339.2" y="759.4" width="16.1" height="16.1"/>
<rect x="342.6" y="762.8" width="16.1" height="16.1"/>
<rect x="345.9" y="766.3" width="16.1" height="16.1"/>
<rect x="349.1" y="769.8" width="16.1" height="16.1"/>
<rect x="352.3" y="773.0" width="16.1" height="16.1"/>
<rect x="355.4" y="775.8" width="16.1" height="16.1"/>
<rect x="358.5" y="778.6" width="16.1" height="16.1"/>
<rect x="361.5" y="781.5" width="16.1" height="16.1"/>
<rect x="364.5" y="784.3" width="16.1" height="16.1"/>
<rect x="367.4" y="787.0" width="16.1" height="16.1"/>
<rect x="370.3" y="789.7" width="16.1" height="16.1"/>
<rect x="373.2" y="792.3" width="16.1" height="16.1"/>
<rect x="375.9" y="794.9" width="16.1" height="16.1"/>
<rect x="378.7" y="797.4" width="16.1" height="16.1"/>
<rect x="381.4" y="800.0" width="16.1" height="16.1"/>
<rect x="384.1" y="802.4" width="16.1" height="16.1"/>
<rect x="386.7" y="804.9" width="16.1" height="16.1"/>
<rect x="389.3" y="807.3" width="16.1" height="16.1"/>
<rect x="391.9" y="809.7" width="16.1" height="16.1"/>
<rect x="394.4" y="812.1" width="16.1" height="16.1"/>
<rect x="396.9" y="814.5" width="16.1" height="16.1"/>
<rect x="399.4" y="816.6" width="16.1" height="16.1"/>
<rect x="401.8" y="818.8" width="16.1" height="16.1"/>
<rect x="404.2" y="820.9" width="16.1" height="16.1"/>
<rect x="406.6" y="823.0" width="16.1" height="16.1"/>
<rect x="408.9" y="825.0" width="16.1" height="16.1"/>
<rect x="411.2" y="827.0" width="16.1" height="16.1"/>
<rect x="413.5" y="829.0" width="16.1" height="16.1"/>
<rect x="415.8" y="831.0" width="16.1" height="16.1"/>
<rect x="418.0" y="833.0" width="16.1" height="16.1"/>
<rect x="420.2" y="834.9" width="16.1" height="16.1"/>
<rect x="422.4" y="836.8" width="16.1" height="16.1"/>
<rect x="424.5" y="838.7" width="16.1" height="16.1"/>
<rect x="426.6" y="840.6" width="16.1" height="16.1"/>
<rect x="428.7" y="842.3" width="16.1" height="16.1"/>
<rect x="430.8" y="843.9" width="16.1" height="16.1"/>
<rect x="432.8" y="845.5" width="16.1" height="16.1"/>
<rect x="434.9" y="847.1" width="16.1" height="16.1"/>
<rect x="436.9" y="848.7" width="16.1" height="16.1"/>
<rect x="438.9" y="850.3" width="16.1" height="16.1"/>
<rect x="440.8" y="851.8" width="16.1" height="16.1"/>
<rect x="442.8" y="853.4" width="16.1" height="16.1"/>
<rect x="444.7" y="854.9" width="16.1" height="16.1"/>
<rect x="446.6" y="856.4" width="16.1" height="16.1"/>
<rect x="448.5" y="857.9" width="16.1" height="16.1"/>
<rect x="450.4" y="859.3" width="16.1" height="16.1"/>
<rect x="452.2" y="860.8" width="16.1" height="16.1"/>
<rect x="454.0" y="862.3" width="16.1" height="16.1"/>
<rect x="455.8" y="863.8" width="16.1" height="16.1"/>
<rect x="457.6" y="865.3" width="16.1" height="16.1"/>
<rect x="459.4" y="866.7" width="16.1" height="16.1"/>
<rect x="461.2" y="868.2" width="16.1" height="16.1"/>
<rect x="462.9" y="869.6" width="16.1" height="16.1"/>
<rect x="464.6" y="871.1" width="16.1" height="16.1"/>
<rect x="466.4" y="872.5" width="16.1" height="16.1"/>
<rect x="468.1" y="873.9" width="16.1" height="16.1"/>
<rect x="469.7" y="875.3" width="16.1" height="16.1"/>
<rect x="471.4" y="876.7" width="16.1" height="16.1"/>
<rect x="473.0" y="878.0" width="16.1" height="16.1"/>
<rect x="474.7" y="879.4" width="16.1" height="16.1"/>
<rect x="476.3" y="880.7" width="16.1" height="16.1"/>
<rect x="477.9" y="882.0" width="16.1" height="16.1"/>
<rect x="479.5" y="883.3" width="16.1" height="16.1"/>
<rect x="481.1" y="884.5" width="16.1" height="16.1"/>
<rect x="482.6" y="885.8" width="16.1" height="16.1"/>
<rect x="484.2" y="887.0" width="16.1" height="16.1"/>
<rect x="485.7" y="888.3" width="16.1" height="16.1"/>
<rect x="485.9" y="888.5" width="16.1" height="16.1"/>
</g>
<g stroke="#3cbf73">
<rect x="88.0" y="596.0" width="16.1" height="16.1"/>
<rect x="100.1" y="593.5" width="16.1" height="16.1"/>
<rect x="112.2" y="593.5" width="16.1" height="16.1"/>
<rect x="123.6" y="593.5" width="16.1" height="16.1"/>
<rect x="134.6" y="594.2" width="16.1" height="16.1"/>
<rect x="145.5" y="597.6" width="16.1" height="16.1"/>
<rect x="155.9" y="600.7" width="16.1" height="16.1"/>
<rect x="165.7" y="604.5" width="16.1" height="16.1"/>
<rect x="174.8" y="609.6" width="16.1" height="16.1"/>
<rect x="183.5" y="616.6" width="16.1" height="16.1"/>
<rect x="191.7" y="625.4" width="16.1" height="16.1"/>
<rect x="199.3" y="633.1" width="16.1" height="16.1"/>
<rect x="206.5" y="640.0" width="16.1" height="16.1"/>
<rect x="213.3" y="646.0" width="16.1" height="16.1"/>
<rect x="219.9" y="650.9" width="16.1" height="16.1"/>
<rect x="226.2" y="656.5" width="16.1" height="16.1"/>
<rect x="232.3" y="661.9" width="16.1" height="16.1"/>
<rect x="238.3" y="667.3" width="16.1" height="16.1"/>
<rect x="244.0" y="672.6" width="16.1" height="16.1"/>
<rect x="249.6" y="677.9" width="16.1" height="16.1"/>
<rect x="255.0" y="683.2" width="16.1" height="16.1"/>
<rect x="260.3" y="689.1" width="16.1" height="16.1"/>
<rect x="265.4" y="694.5" width="16.1" height="16.1"/>
<rect x="270.4" y="698.4" width="16.1" height="16.1"/>
<rect x="275.2" y="703.5" width="16.1" height="16.1"/>
<rect x="279.9" y="707.2" width="16.1" height="16.1"/>
<rect x="284.5" y="712.1" width="16.1" height="16.1"/>
<rect x="289.0" y="716.7" width="16.1" height="16.1"/>
<rect x="293.4" y="721.3" width="16.1" height="16.1"/>
<rect x="297.7" y="725.7" width="16.1" height="16.1"/>
<rect x="301.9" y="729.8" width="16.1" height="16.1"/>
<rect x="306.0" y="733.8" width="16.1" height="16.1"/>
<rect x="310.0" y="737.7" width="16.1" height="16.1"/>
<rect x="313.9" y="741.5" width="16.1" height="16.1"/>
<rect x="317.8" y="745.0" width="16.1" height="16.1"/>
<rect x="321.5" y="748.4" width="16.1" height="16.1"/>
<rect x="325.2" y="751.8" width="16.1" height="16.1"/>
<rect x="328.8" y="755.2" width="16.1" height="16.1"/>
<rect x="332.4" y="758.4" width="16.1" height="16.1"/>
<rect x="335.9" y="761.4" width="16.1" height="16.1"/>
<rect x="339.3" y="764.3" width="16.1" height="16.1"/>
<rect x="342.6" y="767.3" width="16.1" height="16.1"/>
<rect x="345.9" y="770.5" width="16.1" height="16.1"/>
<rect x="349.2" y="773.6" width="16.1" height="16.1"/>
<rect x="352.3" y="776.4" width="16.1" height="16.1"/>
<rect x="355.5" y="778.9" width="16.1" height="16.1"/>
<rect x="358.5" y="781.4" width="16.1" height="16.1"/>
<rect x="361.6" y="783.9" width="16.1" height="16.1"/>
<rect x="364.5" y="786.4" width="16.1" height="16.1"/>
<rect x="367.5" y="788.9" width="16.1" height="16.1"/>
<rect x="370.4" y="791.5" width="16.1" height="16.1"/>
<rect x="373.2" y="794.1" width="16.1" height="16.1"/>
<rect x="376.0" y="796.6" width="16.1" height="16.1"/>
<rect x="378.7" y="799.1" width="16.1" height="16.1"/>
<rect x="381.5" y="801.6" width="16.1" height="16.1"/>
<rect x="384.1" y="804.1" width="16.1" height="16.1"/>
<rect x="386.8" y="806.5" width="16.1" height="16.1"/>
<rect x="389.4" y="808.9" width="16.1" height="16.1"/>
<rect x="391.9" y="811.3" width="16.1" height="16.1"/>
<rect x="394.5" y="813.6" width="16.1" height="16.1"/>
<rect x="397.0" y="815.9" width="16.1" height="16.1"/>
<rect x="399.4" y="818.0" width="16.1" height="16.1"/>
<rect x="401.9" y="820.1" width="16.1" height="16.1"/>
<rect x="404.2" y="822.1" width="16.1" height="16.1"/>
<rect x="406.6" y="824.2" width="16.1" height="16.1"/>
<rect x="409.0" y="826.1" width="16.1" height="16.1"/>
<rect x="411.3" y="828.1" width="16.1" height="16.1"/>
<rect x="413.5" y="830.1" width="16.1" height="16.1"/>
<rect x="415.8" y="832.0" width="16.1" height="16.1"/>
<rect x="418.0" y="833.9" width="16.1" height="16.1"/>
<rect x="420.2" y="835.8" width="16.1" height="16.1"/>
<rect x="422.4" y="837.6" width="16.1" height="16.1"/>
<rect x="424.5" y="839.4" width="16.1" height="16.1"/>
<rect x="426.7" y="841.3" width="16.1" height="16.1"/>
<rect x="428.8" y="843.0" width="16.1" height="16.1"/>
<rect x="430.8" y="844.6" width="16.1" height="16.1"/>
<rect x="432.9" y="846.2" width="16.1" height="16.1"/>
<rect x="434.9" y="847.7" width="16.1" height="16.1"/>
<rect x="436.9" y="849.3" width="16.1" height="16.1"/>
<rect x="438.9" y="850.8" width="16.1" height="16.1"/>
<rect x="440.9" y="852.4" width="16.1" height="16.1"/>
<rect x="442.8" y="853.9" width="16.1" height="16.1"/>
<rect x="444.7" y="855.4" width="16.1" height="16.1"/>
<rect x="446.6" y="856.8" width="16.1" height="16.1"/>
<rect x="448.5" y="858.3" width="16.1" height="16.1"/>
<rect x="450.4" y="859.8" width="16.1" height="16.1"/>
<rect x="452.2" y="861.2" width="16.1" height="16.1"/>
<rect x="454.1" y="862.7" width="16.1" height="16.1"/>
<rect x="455.9" y="864.1" width="16.1" height="16.1"/>
<rect x="457.7" y="865.6" width="16.1" height="16.1"/>
<rect x="459.4" y="867.1" width="16.1" height="16.1"/>
<rect x="461.2" y="868.5" width="16.1" height="16.1"/>
<rect x="462.9" y="869.9" width="16.1" height="16.1"/>
<rect x="464.7" y="871.3" width="16.1" height="16.1"/>
<rect x="466.4" y="872.7" width="16.1" height="16.1"/>
<rect x="468.1" y="874.1" width="16.1" height="16.1"/>
<rect x="469.8" y="875.5" width="16.1" height="16.1"/>
<rect x="471.4" y="876.8" width="16.1" height="16.1"/>
<rect x="473.1" y="878.2" width="16.1" height="16.1"/>
<rect x="474.7" y="879.5" width="16.1" height="16.1"/>
<rect x="476.3" y="880.8" width="16.1" height="16.1"/>
<rect x="477.9" y="882.1" width="16.1" height="16.1"/>
<rect x="479.5" y="883.4" width="16.1" height="16.1"/>
<rect x="481.1" y="884.6" width="16.1" height="16.1"/>
<rect x="482.7" y="885.9" width="16.1" height="16.1"/>
<rect x="484.2" y="887.1" width="16.1" height="16.1"/>
<rect x="485.8" y="888.3" width="16.1" height="16.1"/>
<rect x="485.9" y="888.5" width="16.1" height="16.1"/>
</g>
<g stroke="#6b6ba3">
<rect x="88.5" y="628.5" width="16.1" height="16.1"/>
<rect x="100.6" y="622.8" width="16.1" height="16.1"/>
<rect x="112.6" y="619.9" width="16.1" height="16.1"/>
<rect x="124.0" y="619.0" width="16.1" height="16.1"/>
<rect x="135.1" y="619.0" width="16.1" height="16.1"/>
<rect x="146.0" y="619.5" width="16.1" height="16.1"/>
<rect x="156.3" y="619.6" width="16.1" height="16.1"/>
<rect x="166.1" y="614.2" width="16.1" height="16.1"/>
<rect x="175.2" y="620.1" width="16.1" height="16.1"/>
<rect x="183.8" y="626.3" width="16.1" height="16.1"/>
<rect x="192.0" y="633.9" width="16.1" height="16.1"/>
<rect x="199.6" y="639.5" width="16.1" height="16.1"/>
<rect x="206.8" y="644.8" width="16.1" height="16.1"/>
<rect x="213.6" y="650.1" width="16.1" height="16.1"/>
<rect x="220.1" y="654.9" width="16.1" height="16.1"/>
<rect x="226.5" y="660.1" width="16.1" height="16.1"/>
<rect x="232.6" y="665.6" width="16.1" height="16.1"/>
<rect x="238.5" y="671.0" width="16.1" height="16.1"/>
<rect x="244.3" y="676.0" width="16.1" height="16.1"/>
<rect x="249.8" y="680.8" width="16.1" height="16.1"/>
<rect x="255.2" y="685.5" width="16.1" height="16.1"/>
<rect x="260.5" y="690.9" width="16.1" height="16.1"/>
<rect x="265.6" y="696.2" width="16.1" height="16.1"/>
<rect x="270.6" y="700.3" width="16.1" height="16.1"/>
<rect x="275.4" y="705.5" width="16.1" height="16.1"/>
<rect x="280.1" y="709.8" width="16.1" height="16.1"/>
<rect x="284.7" y="714.7" width="16.1" height="16.1"/>
<rect x="289.2" y="719.0" width="16.1" height="16.1"/>
<rect x="293.6" y="723.2" width="16.1" height="16.1"/>
<rect x="297.9" y="727.4" width="16.1" height="16.1"/>
<rect x="302.1" y="731.4" width="16.1" height="16.1"/>
<rect x="306.2" y="735.3" width="16.1" height="16.1"/>
<rect x="310.2" y="739.2" width="16.1" height="16.1"/>
<rect x="314.1" y="742.9" width="16.1" height="16.1"/>
<rect x="317.9" y="746.4" width="16.1" height="16.1"/>
<rect x="321.7" y="750.0" width="16.1" height="16.1"/>
<rect x="325.4" y="753.6" width="16.1" height="16.1"/>
<rect x="329.0" y="757.1" width="16.1" height="16.1"/>
<rect x="332.5" y="760.5" width="16.1" height="16.1"/>
<rect x="336.0" y="763.6" width="16.1" height="16.1"/>
<rect x="339.4" y="766.7" width="16.1" height="16.1"/>
<rect x="342.8" y="769.8" width="16.1" height="16.1"/>
<rect x="346.1" y="772.9" width="16.1" height="16.1"/>
<rect x="349.3" y="775.9" width="16.1" height="16.1"/>
<rect x="352.5" y="778.6" width="16.1" height="16.1"/>
<rect x="355.6" y="781.0" width="16.1" height="16.1"/>
<rect x="358.7" y="783.5" width="16.1" height="16.1"/>
<rect x="361.7" y="785.9" width="16.1" height="16.1"/>
<rect x="364.7" y="788.3" width="16.1" height="16.1"/>
<rect x="367.6" y="790.8" width="16.1" height="16.1"/>
<rect x="370.5" y="793.3" width="16.1" height="16.1"/>
<rect x="373.3" y="795.8" width="16.1" height="16.1"/>
<rect x="376.1" y="798.3" width="16.1" height="16.1"/>
<rect x="378.9" y="800.8" width="16.1" height="16.1"/>
<rect x="381.6" y="803.2" width="16.1" height="16.1"/>
<rect x="384.2" y="805.6" width="16.1" height="16.1"/>
<rect x="386.9" y="807.9" width="16.1" height="16.1"/>
<rect x="389.5" y="810.3" width="16.1" height="16.1"/>
<rect x="392.0" y="812.6" width="16.1" height="16.1"/>
<rect x="394.6" y="814.8" width="16.1" height="16.1"/>
<rect x="397.1" y="817.1" width="16.1" height="16.1"/>
<rect x="399.5" y="819.2" width="16.1" height="16.1"/>
<rect x="401.9" y="821.2" width="16.1" height="16.1"/>
<rect x="404.3" y="823.2" width="16.1" height="16.1"/>
<rect x="406.7" y="825.1" width="16.1" height="16.1"/>
<rect x="409.0" y="827.1" width="16.1" height="16.1"/>
<rect x="411.4" y="829.0" width="16.1" height="16.1"/>
<rect x="413.6" y="830.9" width="16.1" height="16.1"/>
<rect x="415.9" y="832.8" width="16.1" height="16.1"/>
<rect x="418.1" y="834.6" width="16.1" height="16.1"/>
<rect x="420.3" y="836.5" width="16.1" height="16.1"/>
<rect x="422.5" y="838.3" width="16.1" height="16.1"/>
<rect x="424.6" y="840.1" width="16.1" height="16.1"/>
<rect x="426.7" y="841.8" width="16.1" height="16.1"/>
<rect x="428.8" y="843.5" width="16.1" height="16.1"/>
<rect x="430.9" y="845.1" width="16.1" height="16.1"/>
<rect x="433.0" y="846.7" width="16.1" height="16.1"/>
<rect x="435.0" y="848.2" width="16.1" height="16.1"/>
<rect x="437.0" y="849.8" width="16.1" height="16.1"/>
<rect x="439.0" y="851.3" width="16.1" height="16.1"/>
<rect x="440.9" y="852.8" width="16.1" height="16.1"/>
<rect x="442.9" y="854.3" width="16.1" height="16.1"/>
<rect x="444.8" y="855.8" width="16.1" height="16.1"/>
<rect x="446.7" y="857.2" width="16.1" height="16.1"/>
<rect x="448.6" y="858.7" width="16.1" height="16.1"/>
<rect x="450.5" y="860.1" width="16.1" height="16.1"/>
<rect x="452.3" y="861.5" width="16.1" height="16.1"/>
<rect x="454.1" y="863.0" width="16.1" height="16.1"/>
<rect x="455.9" y="864.5" width="16.1" height="16.1"/>
<rect x="457.7" y="865.9" width="16.1" height="16.1"/>
<rect x="459.5" y="867.3" width="16.1" height="16.1"/>
<rect x="461.3" y="868.8" width="16.1" height="16.1"/>
<rect x="463.0" y="870.2" width="16.1" height="16.1"/>
<rect x="464.7" y="871.6" width="16.1" height="16.1"/>
<rect x="466.5" y="872.9" width="16.1" height="16.1"/>
<rect x="468.1" y="874.3" width="16.1" height="16.1"/>
<rect x="469.8" y="875.7" width="16.1" height="16.1"/>
<rect x="471.5" y="877.0" width="16.1" height="16.1"/>
<rect x="473.1" y="878.3" width="16.1" height="16.1"/>
<rect x="474.8" y="879.7" width="16.1" height="16.1"/>
<rect x="476.4" y="881.0" width="16.1" height="16.1"/>
<rect x="478.0" y="882.2" width="16.1" height="16.1"/>
<rect x="479.6" y="883.5" width="16.1" height="16.1"/>
<rect x="481.2" y="884.7" width="16.1" height="16.1"/>
<rect x="482.7" y="885.9" width="16.1" height="16.1"/>
<rect x="484.3" y="887.1" width="16.1" height="16.1"/>
<rect x="485.8" y="888.4" width="16.1" height="16.1"/>
<rect x="485.9" y="888.5" width="16.1" height="16.1"/>
</g>
<g stroke="#9a9a9a">
<rect x="87.5" y="665.5" width="16.1" height="16.1"/>
<rect x="99.6" y="647.8" width="16.1" height="16.1"/>
<rect x="111.7" y="641.7" width="16.1" height="16.1"/>
<rect x="123.1" y="638.4" width="16.1" height="16.1"/>
<rect x="134.2" y="637.4" width="16.1" height="16.1"/>
<rect x="145.1" y="637.0" width="16.1" height="16.1"/>
<rect x="155.5" y="637.0" width="16.1" height="16.1"/>
<rect x="165.3" y="637.8" width="16.1" height="16.1"/>
<rect x="174.5" y="640.9" width="16.1" height="16.1"/>
<rect x="183.1" y="644.8" width="16.1" height="16.1"/>
<rect x="191.4" y="648.5" width="16.1" height="16.1"/>
<rect x="199.0" y="653.8" width="16.1" height="16.1"/>
<rect x="206.2" y="659.4" width="16.1" height="16.1"/>
<rect x="213.0" y="664.7" width="16.1" height="16.1"/>
<rect x="219.6" y="669.0" width="16.1" height="16.1"/>
<rect x="225.9" y="673.5" width="16.1" height="16.1"/>
<rect x="232.1" y="677.7" width="16.1" height="16.1"/>
<rect x="238.0" y="681.5" width="16.1" height="16.1"/>
<rect x="243.8" y="685.5" width="16.1" height="16.1"/>
<rect x="249.4" y="689.6" width="16.1" height="16.1"/>
<rect x="254.8" y="693.6" width="16.1" height="16.1"/>
<rect x="260.1" y="698.5" width="16.1" height="16.1"/>
<rect x="265.2" y="703.2" width="16.1" height="16.1"/>
<rect x="270.2" y="706.6" width="16.1" height="16.1"/>
<rect x="275.0" y="711.1" width="16.1" height="16.1"/>
<rect x="279.8" y="714.5" width="16.1" height="16.1"/>
<rect x="284.4" y="719.0" width="16.1" height="16.1"/>
<rect x="288.9" y="722.9" width="16.1" height="16.1"/>
<rect x="293.3" y="726.7" width="16.1" height="16.1"/>
<rect x="297.5" y="730.5" width="16.1" height="16.1"/>
<rect x="301.7" y="734.2" width="16.1" height="16.1"/>
<rect x="305.8" y="737.9" width="16.1" height="16.1"/>
<rect x="309.8" y="741.5" width="16.1" height="16.1"/>
<rect x="313.8" y="744.9" width="16.1" height="16.1"/>
<rect x="317.6" y="748.2" width="16.1" height="16.1"/>
<rect x="321.4" y="751.7" width="16.1" height="16.1"/>
<rect x="325.1" y="755.3" width="16.1" height="16.1"/>
<rect x="328.7" y="758.7" width="16.1" height="16.1"/>
<rect x="332.2" y="762.1" width="16.1" height="16.1"/>
<rect x="335.7" y="765.3" width="16.1" height="16.1"/>
<rect x="339.1" y="768.3" width="16.1" height="16.1"/>
<rect x="342.5" y="771.3" width="16.1" height="16.1"/>
<rect x="345.8" y="774.3" width="16.1" height="16.1"/>
<rect x="349.0" y="777.3" width="16.1" height="16.1"/>
<rect x="352.2" y="780.0" width="16.1" height="16.1"/>
<rect x="355.3" y="782.3" width="16.1" height="16.1"/>
<rect x="358.4" y="784.7" width="16.1" height="16.1"/>
<rect x="361.4" y="787.1" width="16.1" height="16.1"/>
<rect x="364.4" y="789.4" width="16.1" height="16.1"/>
<rect x="367.4" y="791.7" width="16.1" height="16.1"/>
<rect x="370.2" y="794.3" width="16.1" height="16.1"/>
<rect x="373.1" y="796.7" width="16.1" height="16.1"/>
<rect x="375.9" y="799.2" width="16.1" height="16.1"/>
<rect x="378.6" y="801.6" width="16.1" height="16.1"/>
<rect x="381.4" y="804.0" width="16.1" height="16.1"/>
<rect x="384.0" y="806.3" width="16.1" height="16.1"/>
<rect x="386.7" y="808.7" width="16.1" height="16.1"/>
<rect x="389.3" y="811.0" width="16.1" height="16.1"/>
<rect x="391.8" y="813.2" width="16.1" height="16.1"/>
<rect x="394.4" y="815.5" width="16.1" height="16.1"/>
<rect x="396.9" y="817.7" width="16.1" height="16.1"/>
<rect x="399.3" y="819.8" width="16.1" height="16.1"/>
<rect x="401.8" y="821.8" width="16.1" height="16.1"/>
<rect x="404.2" y="823.7" width="16.1" height="16.1"/>
<rect x="406.5" y="825.7" width="16.1" height="16.1"/>
<rect x="408.9" y="827.6" width="16.1" height="16.1"/>
<rect x="411.2" y="829.5" width="16.1" height="16.1"/>
<rect x="413.4" y="831.4" width="16.1" height="16.1"/>
<rect x="415.7" y="833.2" width="16.1" height="16.1"/>
<rect x="417.9" y="835.1" width="16.1" height="16.1"/>
<rect x="420.1" y="836.9" width="16.1" height="16.1"/>
<rect x="422.3" y="838.7" width="16.1" height="16.1"/>
<rect x="424.4" y="840.4" width="16.1" height="16.1"/>
<rect x="426.6" y="842.2" width="16.1" height="16.1"/>
<rect x="428.7" y="843.9" width="16.1" height="16.1"/>
<rect x="430.7" y="845.4" width="16.1" height="16.1"/>
<rect x="432.8" y="847.0" width="16.1" height="16.1"/>
<rect x="434.8" y="848.5" width="16.1" height="16.1"/>
<rect x="436.8" y="850.1" width="16.1" height="16.1"/>
<rect x="438.8" y="851.6" width="16.1" height="16.1"/>
<rect x="440.8" y="853.1" width="16.1" height="16.1"/>
<rect x="442.7" y="854.5" width="16.1" height="16.1"/>
<rect x="444.7" y="856.0" width="16.1" height="16.1"/>
<rect x="446.6" y="857.5" width="16.1" height="16.1"/>
<rect x="448.4" y="858.9" width="16.1" height="16.1"/>
<rect x="450.3" y="860.3" width="16.1" height="16.1"/>
<rect x="452.2" y="861.7" width="16.1" height="16.1"/>
<rect x="454.0" y="863.2" width="16.1" height="16.1"/>
<rect x="455.8" y="864.6" width="16.1" height="16.1"/>
<rect x="457.6" y="866.0" width="16.1" height="16.1"/>
<rect x="459.4" y="867.5" width="16.1" height="16.1"/>
<rect x="461.1" y="868.9" width="16.1" height="16.1"/>
<rect x="462.9" y="870.3" width="16.1" height="16.1"/>
<rect x="464.6" y="871.6" width="16.1" height="16.1"/>
<rect x="466.3" y="873.0" width="16.1" height="16.1"/>
<rect x="468.0" y="874.4" width="16.1" height="16.1"/>
<rect x="469.7" y="875.7" width="16.1" height="16.1"/>
<rect x="471.4" y="877.0" width="16.1" height="16.1"/>
<rect x="473.0" y="878.4" width="16.1" height="16.1"/>
<rect x="474.6" y="879.7" width="16.1" height="16.1"/>
<rect x="476.3" y="880.9" width="16.1" height="16.1"/>
<rect x="477.9" y="882.2" width="16.1" height="16.1"/>
<rect x="479.5" y="883.4" width="16.1" height="16.1"/>
<rect x="481.0" y="884.6" width="16.1" height="16.1"/>
<rect x="482.6" y="885.9" width="16.1" height="16.1"/>
<rect x="484.2" y="887.1" width="16.1" height="16.1"/>
<rect x="485.7" y="888.3" width="16.1" height="16.1"/>
<rect x="485.9" y="888.5" width="16.1" height="16.1"/>
</g>
<g stroke="#fb6a6d">
<rect x="87.5" y="693.5" width="16.1" height="16.1"/>
<rect x="99.6" y="672.1" width="16.1" height="16.1"/>
<rect x="111.7" y="665.7" width="16.1" height="16.1"/>
<rect x="123.1" y="661.9" width="16.1" height="16.1"/>
<rect x="134.2" y="660.2" width="16.1" height="16.1"/>
<rect x="145.1" y="660.2" width="16.1" height="16.1"/>
<rect x="155.5" y="660.6" width="16.1" height="16.1"/>
<rect x="165.3" y="661.3" width="16.1" height="16.1"/>
<rect x="174.5" y="665.0" width="16.1" height="16.1"/>
<rect x="183.1" y="668.8" width="16.1" height="16.1"/>
<rect x="191.4" y="672.2" width="16.1" height="16.1"/>
<rect x="199.0" y="675.3" width="16.1" height="16.1"/>
<rect x="206.2" y="678.1" width="16.1" height="16.1"/>
<rect x="213.0" y="680.5" width="16.1" height="16.1"/>
<rect x="219.6" y="680.9" width="16.1" height="16.1"/>
<rect x="225.9" y="683.2" width="16.1" height="16.1"/>
<rect x="232.1" y="687.4" width="16.1" height="16.1"/>
<rect x="238.0" y="691.5" width="16.1" height="16.1"/>
<rect x="243.8" y="695.3" width="16.1" height="16.1"/>
<rect x="249.4" y="699.0" width="16.1" height="16.1"/>
<rect x="254.8" y="702.2" width="16.1" height="16.1"/>
<rect x="260.1" y="706.3" width="16.1" height="16.1"/>
<rect x="265.2" y="710.3" width="16.1" height="16.1"/>
<rect x="270.2" y="712.9" width="16.1" height="16.1"/>
<rect x="275.0" y="716.8" width="16.1" height="16.1"/>
<rect x="279.8" y="719.7" width="16.1" height="16.1"/>
<rect x="284.4" y="723.9" width="16.1" height="16.1"/>
<rect x="288.9" y="727.7" width="16.1" height="16.1"/>
<rect x="293.3" y="731.4" width="16.1" height="16.1"/>
<rect x="297.5" y="735.0" width="16.1" height="16.1"/>
<rect x="301.7" y="738.7" width="16.1" height="16.1"/>
<rect x="305.8" y="742.4" width="16.1" height="16.1"/>
<rect x="309.8" y="746.0" width="16.1" height="16.1"/>
<rect x="313.8" y="749.5" width="16.1" height="16.1"/>
<rect x="317.6" y="752.8" width="16.1" height="16.1"/>
<rect x="321.4" y="755.9" width="16.1" height="16.1"/>
<rect x="325.1" y="759.1" width="16.1" height="16.1"/>
<rect x="328.7" y="762.2" width="16.1" height="16.1"/>
<rect x="332.2" y="765.2" width="16.1" height="16.1"/>
<rect x="335.7" y="768.0" width="16.1" height="16.1"/>
<rect x="339.1" y="770.7" width="16.1" height="16.1"/>
<rect x="342.5" y="773.4" width="16.1" height="16.1"/>
<rect x="345.8" y="776.3" width="16.1" height="16.1"/>
<rect x="349.0" y="779.1" width="16.1" height="16.1"/>
<rect x="352.2" y="781.7" width="16.1" height="16.1"/>
<rect x="355.3" y="783.9" width="16.1" height="16.1"/>
<rect x="358.4" y="786.2" width="16.1" height="16.1"/>
<rect x="361.4" y="788.5" width="16.1" height="16.1"/>
<rect x="364.4" y="790.7" width="16.1" height="16.1"/>
<rect x="367.4" y="792.9" width="16.1" height="16.1"/>
<rect x="370.2" y="795.5" width="16.1" height="16.1"/>
<rect x="373.1" y="797.9" width="16.1" height="16.1"/>
<rect x="375.9" y="800.4" width="16.1" height="16.1"/>
<rect x="378.6" y="802.8" width="16.1" height="16.1"/>
<rect x="381.4" y="805.1" width="16.1" height="16.1"/>
<rect x="384.0" y="807.5" width="16.1" height="16.1"/>
<rect x="386.7" y="809.8" width="16.1" height="16.1"/>
<rect x="389.3" y="812.1" width="16.1" height="16.1"/>
<rect x="391.8" y="814.4" width="16.1" height="16.1"/>
<rect x="394.4" y="816.6" width="16.1" height="16.1"/>
<rect x="396.9" y="818.8" width="16.1" height="16.1"/>
<rect x="399.3" y="820.8" width="16.1" height="16.1"/>
<rect x="401.8" y="822.8" width="16.1" height="16.1"/>
<rect x="404.2" y="824.7" width="16.1" height="16.1"/>
<rect x="406.5" y="826.6" width="16.1" height="16.1"/>
<rect x="408.9" y="828.5" width="16.1" height="16.1"/>
<rect x="411.2" y="830.4" width="16.1" height="16.1"/>
<rect x="413.4" y="832.2" width="16.1" height="16.1"/>
<rect x="415.7" y="834.0" width="16.1" height="16.1"/>
<rect x="417.9" y="835.8" width="16.1" height="16.1"/>
<rect x="420.1" y="837.6" width="16.1" height="16.1"/>
<rect x="422.3" y="839.4" width="16.1" height="16.1"/>
<rect x="424.4" y="841.1" width="16.1" height="16.1"/>
<rect x="426.6" y="842.8" width="16.1" height="16.1"/>
<rect x="428.7" y="844.4" width="16.1" height="16.1"/>
<rect x="430.7" y="846.0" width="16.1" height="16.1"/>
<rect x="432.8" y="847.5" width="16.1" height="16.1"/>
<rect x="434.8" y="849.0" width="16.1" height="16.1"/>
<rect x="436.8" y="850.5" width="16.1" height="16.1"/>
<rect x="438.8" y="852.0" width="16.1" height="16.1"/>
<rect x="440.8" y="853.5" width="16.1" height="16.1"/>
<rect x="442.7" y="855.0" width="16.1" height="16.1"/>
<rect x="444.7" y="856.4" width="16.1" height="16.1"/>
<rect x="446.6" y="857.8" width="16.1" height="16.1"/>
<rect x="448.4" y="859.2" width="16.1" height="16.1"/>
<rect x="450.3" y="860.6" width="16.1" height="16.1"/>
<rect x="452.2" y="862.0" width="16.1" height="16.1"/>
<rect x="454.0" y="863.4" width="16.1" height="16.1"/>
<rect x="455.8" y="864.9" width="16.1" height="16.1"/>
<rect x="457.6" y="866.3" width="16.1" height="16.1"/>
<rect x="459.4" y="867.7" width="16.1" height="16.1"/>
<rect x="461.1" y="869.1" width="16.1" height="16.1"/>
<rect x="462.9" y="870.4" width="16.1" height="16.1"/>
<rect x="464.6" y="871.8" width="16.1" height="16.1"/>
<rect x="466.3" y="873.2" width="16.1" height="16.1"/>
<rect x="468.0" y="874.5" width="16.1" height="16.1"/>
<rect x="469.7" y="875.8" width="16.1" height="16.1"/>
<rect x="471.4" y="877.1" width="16.1" height="16.1"/>
<rect x="473.0" y="878.5" width="16.1" height="16.1"/>
<rect x="474.6" y="879.7" width="16.1" height="16.1"/>
<rect x="476.3" y="881.0" width="16.1" height="16.1"/>
<rect x="477.9" y="882.2" width="16.1" height="16.1"/>
<rect x="479.5" y="883.5" width="16.1" height="16.1"/>
<rect x="481.0" y="884.7" width="16.1" height="16.1"/>
<rect x="482.6" y="885.9" width="16.1" height="16.1"/>
<rect x="484.2" y="887.1" width="16.1" height="16.1"/>
<rect x="485.7" y="888.3" width="16.1" height="16.1"/>
<rect x="485.9" y="888.5" width="16.1" height="16.1"/>
</g>
</g>
<text transform="translate(33.50,511.50) scale(1,1.0)" font-family="'Liberation Serif', serif" font-weight="bold" font-size="43.6" text-anchor="start" letter-spacing="1.4" >(c)</text>
<text transform="translate(88.60,546.90) scale(1,1.07)" font-family="'Liberation Serif', serif" font-weight="bold" font-size="35.2" text-anchor="end" >250</text>
<text transform="translate(88.60,645.30) scale(1,1.07)" font-family="'Liberation Serif', serif" font-weight="bold" font-size="35.2" text-anchor="end" >200</text>
<text transform="translate(88.60,743.70) scale(1,1.07)" font-family="'Liberation Serif', serif" font-weight="bold" font-size="35.2" text-anchor="end" >150</text>
<text transform="translate(88.60,842.10) scale(1,1.07)" font-family="'Liberation Serif', serif" font-weight="bold" font-size="35.2" text-anchor="end" >100</text>
<text transform="translate(196.00,951.00) scale(1,1.07)" font-family="'Liberation Serif', serif" font-weight="bold" font-size="35.2" text-anchor="middle" >2</text>
<text transform="translate(326.00,951.00) scale(1,1.07)" font-family="'Liberation Serif', serif" font-weight="bold" font-size="35.2" text-anchor="middle" >4</text>
<text transform="translate(400.00,951.00) scale(1,1.07)" font-family="'Liberation Serif', serif" font-weight="bold" font-size="35.2" text-anchor="middle" >6</text>
<text transform="translate(452.00,951.00) scale(1,1.07)" font-family="'Liberation Serif', serif" font-weight="bold" font-size="35.2" text-anchor="middle" >8</text>
<text transform="translate(475.80,951.00) scale(1,1.07)" font-family="'Liberation Serif', serif" font-weight="bold" font-size="35.2" text-anchor="start" >10</text>
<text transform="translate(193.20,988.80) scale(1,1.0)" font-family="'Liberation Serif', serif" font-weight="bold" font-size="35.6" text-anchor="start" ><tspan font-style="italic">Q</tspan><tspan font-size="23" dy="9" font-style="italic">inv</tspan><tspan dy="-9" font-size="1">&#8203;</tspan> (10<tspan font-size="23" dy="-13.5">12</tspan><tspan dy="13.5" font-size="1">&#8203;</tspan>cm<tspan font-size="23" dy="-13.5">-2</tspan><tspan dy="13.5" font-size="1">&#8203;</tspan>)</text>
<text transform="translate(29.80,706.80) rotate(-90) scale(1,1.03)" font-family="'Liberation Serif', serif" font-weight="bold" font-size="35.6" text-anchor="middle">Mobility <tspan font-style="italic">&#956;</tspan><tspan font-size="24" dy="8.5" font-style="italic">eff</tspan><tspan dy="-8.5" font-size="1">&#8203;</tspan> (cm<tspan font-size="24" dy="-14">2</tspan><tspan dy="14" font-size="1">&#8203;</tspan>/V.s)</text>
<line x1="623.00" y1="497.70" x2="623.00" y2="506.00" stroke="#000000" stroke-width="4.4" stroke-linecap="butt" />
<line x1="623.00" y1="701.20" x2="623.00" y2="709.00" stroke="#000000" stroke-width="4.2" stroke-linecap="butt" />
<line x1="623.00" y1="904.90" x2="623.00" y2="896.50" stroke="#000000" stroke-width="4.2" stroke-linecap="butt" />
<line x1="663.90" y1="497.70" x2="663.90" y2="501.80" stroke="#000000" stroke-width="4.4" stroke-linecap="butt" />
<line x1="663.90" y1="701.20" x2="663.90" y2="707.00" stroke="#000000" stroke-width="4.2" stroke-linecap="butt" />
<line x1="663.90" y1="904.90" x2="663.90" y2="899.50" stroke="#000000" stroke-width="4.2" stroke-linecap="butt" />
<line x1="704.80" y1="497.70" x2="704.80" y2="506.00" stroke="#000000" stroke-width="4.4" stroke-linecap="butt" />
<line x1="704.80" y1="701.20" x2="704.80" y2="709.00" stroke="#000000" stroke-width="4.2" stroke-linecap="butt" />
<line x1="704.80" y1="904.90" x2="704.80" y2="896.50" stroke="#000000" stroke-width="4.2" stroke-linecap="butt" />
<line x1="745.70" y1="497.70" x2="745.70" y2="501.80" stroke="#000000" stroke-width="4.4" stroke-linecap="butt" />
<line x1="745.70" y1="701.20" x2="745.70" y2="707.00" stroke="#000000" stroke-width="4.2" stroke-linecap="butt" />
<line x1="745.70" y1="904.90" x2="745.70" y2="899.50" stroke="#000000" stroke-width="4.2" stroke-linecap="butt" />
<line x1="786.60" y1="497.70" x2="786.60" y2="506.00" stroke="#000000" stroke-width="4.4" stroke-linecap="butt" />
<line x1="786.60" y1="701.20" x2="786.60" y2="709.00" stroke="#000000" stroke-width="4.2" stroke-linecap="butt" />
<line x1="786.60" y1="904.90" x2="786.60" y2="896.50" stroke="#000000" stroke-width="4.2" stroke-linecap="butt" />
<line x1="827.50" y1="497.70" x2="827.50" y2="501.80" stroke="#000000" stroke-width="4.4" stroke-linecap="butt" />
<line x1="827.50" y1="701.20" x2="827.50" y2="707.00" stroke="#000000" stroke-width="4.2" stroke-linecap="butt" />
<line x1="827.50" y1="904.90" x2="827.50" y2="899.50" stroke="#000000" stroke-width="4.2" stroke-linecap="butt" />
<line x1="868.40" y1="497.70" x2="868.40" y2="506.00" stroke="#000000" stroke-width="4.4" stroke-linecap="butt" />
<line x1="868.40" y1="701.20" x2="868.40" y2="709.00" stroke="#000000" stroke-width="4.2" stroke-linecap="butt" />
<line x1="868.40" y1="904.90" x2="868.40" y2="896.50" stroke="#000000" stroke-width="4.2" stroke-linecap="butt" />
<line x1="909.30" y1="497.70" x2="909.30" y2="501.80" stroke="#000000" stroke-width="4.4" stroke-linecap="butt" />
<line x1="909.30" y1="701.20" x2="909.30" y2="707.00" stroke="#000000" stroke-width="4.2" stroke-linecap="butt" />
<line x1="909.30" y1="904.90" x2="909.30" y2="899.50" stroke="#000000" stroke-width="4.2" stroke-linecap="butt" />
<line x1="950.20" y1="497.70" x2="950.20" y2="506.00" stroke="#000000" stroke-width="4.4" stroke-linecap="butt" />
<line x1="950.20" y1="701.20" x2="950.20" y2="709.00" stroke="#000000" stroke-width="4.2" stroke-linecap="butt" />
<line x1="950.20" y1="904.90" x2="950.20" y2="896.50" stroke="#000000" stroke-width="4.2" stroke-linecap="butt" />
<line x1="991.10" y1="497.70" x2="991.10" y2="501.80" stroke="#000000" stroke-width="4.4" stroke-linecap="butt" />
<line x1="991.10" y1="701.20" x2="991.10" y2="707.00" stroke="#000000" stroke-width="4.2" stroke-linecap="butt" />
<line x1="991.10" y1="904.90" x2="991.10" y2="899.50" stroke="#000000" stroke-width="4.2" stroke-linecap="butt" />
<line x1="604.75" y1="532.50" x2="612.40" y2="532.50" stroke="#000000" stroke-width="4.4" stroke-linecap="butt" />
<line x1="999.60" y1="532.50" x2="991.50" y2="532.50" stroke="#000000" stroke-width="4.4" stroke-linecap="butt" />
<line x1="604.75" y1="577.10" x2="612.40" y2="577.10" stroke="#000000" stroke-width="4.4" stroke-linecap="butt" />
<line x1="999.60" y1="577.10" x2="991.50" y2="577.10" stroke="#000000" stroke-width="4.4" stroke-linecap="butt" />
<line x1="604.75" y1="621.70" x2="612.40" y2="621.70" stroke="#000000" stroke-width="4.4" stroke-linecap="butt" />
<line x1="999.60" y1="621.70" x2="991.50" y2="621.70" stroke="#000000" stroke-width="4.4" stroke-linecap="butt" />
<line x1="604.75" y1="666.30" x2="612.40" y2="666.30" stroke="#000000" stroke-width="4.4" stroke-linecap="butt" />
<line x1="999.60" y1="666.30" x2="991.50" y2="666.30" stroke="#000000" stroke-width="4.4" stroke-linecap="butt" />
<line x1="604.75" y1="510.20" x2="608.80" y2="510.20" stroke="#000000" stroke-width="4" stroke-linecap="butt" />
<line x1="999.60" y1="510.20" x2="994.50" y2="510.20" stroke="#000000" stroke-width="4" stroke-linecap="butt" />
<line x1="604.75" y1="554.80" x2="608.80" y2="554.80" stroke="#000000" stroke-width="4" stroke-linecap="butt" />
<line x1="999.60" y1="554.80" x2="994.50" y2="554.80" stroke="#000000" stroke-width="4" stroke-linecap="butt" />
<line x1="604.75" y1="599.40" x2="608.80" y2="599.40" stroke="#000000" stroke-width="4" stroke-linecap="butt" />
<line x1="999.60" y1="599.40" x2="994.50" y2="599.40" stroke="#000000" stroke-width="4" stroke-linecap="butt" />
<line x1="604.75" y1="644.00" x2="608.80" y2="644.00" stroke="#000000" stroke-width="4" stroke-linecap="butt" />
<line x1="999.60" y1="644.00" x2="994.50" y2="644.00" stroke="#000000" stroke-width="4" stroke-linecap="butt" />
<line x1="604.75" y1="688.60" x2="608.80" y2="688.60" stroke="#000000" stroke-width="4" stroke-linecap="butt" />
<line x1="999.60" y1="688.60" x2="994.50" y2="688.60" stroke="#000000" stroke-width="4" stroke-linecap="butt" />
<line x1="604.75" y1="742.65" x2="612.40" y2="742.65" stroke="#000000" stroke-width="4.4" stroke-linecap="butt" />
<line x1="999.60" y1="742.65" x2="991.50" y2="742.65" stroke="#000000" stroke-width="4.4" stroke-linecap="butt" />
<line x1="604.75" y1="803.25" x2="612.40" y2="803.25" stroke="#000000" stroke-width="4.4" stroke-linecap="butt" />
<line x1="999.60" y1="803.25" x2="991.50" y2="803.25" stroke="#000000" stroke-width="4.4" stroke-linecap="butt" />
<line x1="604.75" y1="863.85" x2="612.40" y2="863.85" stroke="#000000" stroke-width="4.4" stroke-linecap="butt" />
<line x1="999.60" y1="863.85" x2="991.50" y2="863.85" stroke="#000000" stroke-width="4.4" stroke-linecap="butt" />
<line x1="604.75" y1="712.35" x2="608.80" y2="712.35" stroke="#000000" stroke-width="4" stroke-linecap="butt" />
<line x1="999.60" y1="712.35" x2="994.50" y2="712.35" stroke="#000000" stroke-width="4" stroke-linecap="butt" />
<line x1="604.75" y1="772.95" x2="608.80" y2="772.95" stroke="#000000" stroke-width="4" stroke-linecap="butt" />
<line x1="999.60" y1="772.95" x2="994.50" y2="772.95" stroke="#000000" stroke-width="4" stroke-linecap="butt" />
<line x1="604.75" y1="833.55" x2="608.80" y2="833.55" stroke="#000000" stroke-width="4" stroke-linecap="butt" />
<line x1="999.60" y1="833.55" x2="994.50" y2="833.55" stroke="#000000" stroke-width="4" stroke-linecap="butt" />
<line x1="604.75" y1="894.15" x2="608.80" y2="894.15" stroke="#000000" stroke-width="4" stroke-linecap="butt" />
<line x1="999.60" y1="894.15" x2="994.50" y2="894.15" stroke="#000000" stroke-width="4" stroke-linecap="butt" />
<line x1="604.75" y1="495.00" x2="604.75" y2="907.60" stroke="#000000" stroke-width="5" stroke-linecap="butt" />
<line x1="999.60" y1="495.00" x2="999.60" y2="907.60" stroke="#000000" stroke-width="5.6" stroke-linecap="butt" />
<line x1="604.75" y1="497.70" x2="1002.00" y2="497.70" stroke="#000000" stroke-width="5.5" stroke-linecap="butt" />
<line x1="604.75" y1="701.20" x2="1002.00" y2="701.20" stroke="#000000" stroke-width="5.5" stroke-linecap="butt" />
<line x1="604.75" y1="904.90" x2="1002.00" y2="904.90" stroke="#000000" stroke-width="5.5" stroke-linecap="butt" />
<line x1="645.30" y1="520.77" x2="654.30" y2="520.85" stroke="#404040" stroke-width="6.2" stroke-linecap="butt" />
<line x1="673.40" y1="521.00" x2="678.10" y2="521.04" stroke="#404040" stroke-width="6.2" stroke-linecap="butt" />
<line x1="706.22" y1="538.64" x2="710.25" y2="546.69" stroke="#404040" stroke-width="6.2" stroke-linecap="butt" />
<line x1="721.50" y1="583.80" x2="727.00" y2="582.20" stroke="#555" stroke-width="1.4" stroke-linecap="butt" />
<line x1="742.32" y1="621.35" x2="747.41" y2="629.37" stroke="#404040" stroke-width="6.2" stroke-linecap="butt" />
<line x1="776.87" y1="656.30" x2="785.78" y2="660.83" stroke="#404040" stroke-width="6.2" stroke-linecap="butt" />
<line x1="823.79" y1="670.38" x2="833.79" y2="670.62" stroke="#404040" stroke-width="6.2" stroke-linecap="butt" />
<line x1="852.59" y1="671.07" x2="862.58" y2="671.31" stroke="#404040" stroke-width="6.2" stroke-linecap="butt" />
<line x1="881.38" y1="671.76" x2="891.37" y2="672.00" stroke="#404040" stroke-width="6.2" stroke-linecap="butt" />
<line x1="910.17" y1="672.45" x2="920.17" y2="672.69" stroke="#404040" stroke-width="6.2" stroke-linecap="butt" />
<line x1="938.96" y1="673.14" x2="948.96" y2="673.38" stroke="#404040" stroke-width="6.2" stroke-linecap="butt" />
<line x1="643.61" y1="731.97" x2="653.42" y2="733.91" stroke="#404040" stroke-width="6.2" stroke-linecap="butt" />
<line x1="672.06" y1="737.59" x2="684.32" y2="740.02" stroke="#404040" stroke-width="6.2" stroke-linecap="butt" />
<line x1="777.11" y1="817.60" x2="786.19" y2="821.80" stroke="#404040" stroke-width="6.2" stroke-linecap="butt" />
<line x1="823.60" y1="833.83" x2="833.90" y2="835.89" stroke="#404040" stroke-width="6.2" stroke-linecap="butt" />
<line x1="851.35" y1="839.39" x2="861.64" y2="841.45" stroke="#404040" stroke-width="6.2" stroke-linecap="butt" />
<line x1="879.59" y1="845.04" x2="889.88" y2="847.11" stroke="#404040" stroke-width="6.2" stroke-linecap="butt" />
<line x1="907.83" y1="850.70" x2="918.12" y2="852.76" stroke="#404040" stroke-width="6.2" stroke-linecap="butt" />
<line x1="936.07" y1="856.36" x2="946.36" y2="858.42" stroke="#404040" stroke-width="6.2" stroke-linecap="butt" />
<polyline points="736.2,547.1 736.7,548.5 737.5,550.4 738.3,552.6 739.2,555.0 740.3,557.7 741.3,560.4 742.4,563.2 743.4,565.9 744.4,568.6 745.4,571.5 746.5,574.4 747.5,577.4 748.6,580.5 749.8,583.5 751.0,586.4 752.3,589.3 753.7,592.1 755.1,594.8 756.5,597.6 758.0,600.3 759.6,602.9 761.3,605.6 763.0,608.2 764.9,610.8 766.9,613.4 769.0,616.1 771.3,618.7 773.6,621.4 775.9,623.9 778.3,626.3 780.6,628.6 782.9,630.6 785.1,632.4 787.4,634.1 789.6,635.5 791.9,636.9 794.1,638.1 796.3,639.3 798.6,640.4 800.8,641.4 803.0,642.3 805.1,643.2 807.2,643.9 809.2,644.6 811.4,645.2 813.7,645.7 816.1,646.3 818.8,646.8 821.7,647.3 824.9,647.8 828.2,648.2 831.6,648.6 835.1,649.0 838.7,649.4 842.2,649.7 845.7,650.0 849.4,650.3 853.3,650.6 857.5,650.8 861.5,651.0 865.4,651.3 868.9,651.4 871.8,651.6 874.0,651.7" fill="none" stroke="#8a8a8a" stroke-width="4.4" stroke-linejoin="round" stroke-linecap="butt" />
<polygon points="888.5,651.3 866.4,645.4 873.5,651.8 867.3,658.6" fill="#8a8a8a"/>
<polyline points="722.4,736.2 723.9,738.0 726.0,740.5 728.4,743.4 731.2,746.6 734.0,750.1 736.9,753.5 739.8,756.8 742.4,759.9 744.9,762.8 747.4,765.8 750.0,768.8 752.5,771.7 755.0,774.6 757.5,777.3 759.9,779.9 762.3,782.3 764.6,784.5 766.8,786.5 768.9,788.4 771.0,790.1 773.2,791.8 775.3,793.3 777.5,794.7 779.8,796.1 782.1,797.3 784.4,798.4 786.7,799.4 789.0,800.3 791.5,801.1 794.0,801.9 796.8,802.7 799.8,803.5 803.0,804.3 806.4,805.1 810.0,805.8 813.7,806.5 817.5,807.2 821.5,808.0 825.5,808.8 829.7,809.8 834.1,810.9 838.7,812.1 843.5,813.4 848.3,814.7 853.2,816.0 858.0,817.4 862.7,818.6 867.1,819.8 871.5,820.9 876.0,822.1 880.5,823.3 884.9,824.4 889.0,825.4 892.6,826.3 895.7,827.1 898.0,827.7" fill="none" stroke="#8a8a8a" stroke-width="4.4" stroke-linejoin="round" stroke-linecap="butt" />
<polygon points="912.5,829.9 890,821.6 897.5,828.3 890,835.2" fill="#8a8a8a"/>
<circle cx="624.1" cy="520.6" r="14.1" fill="#000"/>
<circle cx="620.4" cy="517.4" r="7.0" fill="#5a5a5a"/>
<circle cx="620.4" cy="517.4" r="5.2" fill="#999"/>
<circle cx="620.4" cy="517.4" r="3.6" fill="#d0d0d0"/>
<circle cx="620.4" cy="517.4" r="2.0" fill="#fff"/>
<circle cx="697.5" cy="521.2" r="12.3" fill="#e6000f" stroke="#000" stroke-width="3.6"/>
<circle cx="694.3" cy="517.8000000000001" r="6.3" fill="#850008"/>
<circle cx="693.7" cy="517.2" r="4.2" fill="#ae000b"/>
<circle cx="693.5" cy="517.0" r="1.6" fill="#eb323e"/>
<circle cx="718.0" cy="562.2" r="12.3" fill="#2e6aa2" stroke="#000" stroke-width="3.6"/>
<circle cx="714.8" cy="558.8000000000001" r="6.3" fill="#1a3d5d"/>
<circle cx="714.2" cy="558.2" r="4.2" fill="#22507b"/>
<circle cx="714.0" cy="558.0" r="1.6" fill="#5787b4"/>
<circle cx="730.8" cy="603.2" r="12.3" fill="#fcc116" stroke="#000" stroke-width="3.6"/>
<circle cx="727.5999999999999" cy="599.8000000000001" r="6.3" fill="#926f0c"/>
<circle cx="727.0" cy="599.2" r="4.2" fill="#bf9210"/>
<circle cx="726.8" cy="599.0" r="1.6" fill="#fccd44"/>
<circle cx="758.6" cy="647.0" r="12.3" fill="#3cbf73" stroke="#000" stroke-width="3.6"/>
<circle cx="755.4" cy="643.6" r="6.3" fill="#226e42"/>
<circle cx="754.8000000000001" cy="643.0" r="4.2" fill="#2d9157"/>
<circle cx="754.6" cy="642.8" r="1.6" fill="#63cb8f"/>
<circle cx="803.6" cy="669.9" r="12.3" fill="#6b6ba3" stroke="#000" stroke-width="3.6"/>
<circle cx="800.4" cy="666.5" r="6.3" fill="#3e3e5e"/>
<circle cx="799.8000000000001" cy="665.9" r="4.2" fill="#51517b"/>
<circle cx="799.6" cy="665.6999999999999" r="1.6" fill="#8888b5"/>
<circle cx="983.2" cy="674.2" r="12.3" fill="#9a9a9a" stroke="#000" stroke-width="3.6"/>
<circle cx="980.0" cy="670.8000000000001" r="6.3" fill="#595959"/>
<circle cx="979.4000000000001" cy="670.2" r="4.2" fill="#757575"/>
<circle cx="979.2" cy="670.0" r="1.6" fill="#aeaeae"/>
<defs>
<radialGradient id="glk" cx="0.37" cy="0.37" r="0.27" fx="0.37" fy="0.37"><stop offset="0" stop-color="#ffffff"/><stop offset="0.2" stop-color="#ffffff"/><stop offset="0.45" stop-color="#aaaaaa"/><stop offset="1" stop-color="#000000"/></radialGradient>
<radialGradient id="glr" cx="0.37" cy="0.37" r="0.27" fx="0.37" fy="0.37"><stop offset="0" stop-color="#ffffff"/><stop offset="0.2" stop-color="#ffffff"/><stop offset="0.45" stop-color="#f38c93"/><stop offset="1" stop-color="#e6000f"/></radialGradient>
<radialGradient id="glb" cx="0.37" cy="0.37" r="0.27" fx="0.37" fy="0.37"><stop offset="0" stop-color="#ffffff"/><stop offset="0.2" stop-color="#ffffff"/><stop offset="0.45" stop-color="#a0bbd5"/><stop offset="1" stop-color="#2e6aa2"/></radialGradient>
<radialGradient id="gly" cx="0.37" cy="0.37" r="0.27" fx="0.37" fy="0.37"><stop offset="0" stop-color="#ffffff"/><stop offset="0.2" stop-color="#ffffff"/><stop offset="0.45" stop-color="#fde396"/><stop offset="1" stop-color="#fcc116"/></radialGradient>
<radialGradient id="glg" cx="0.37" cy="0.37" r="0.27" fx="0.37" fy="0.37"><stop offset="0" stop-color="#ffffff"/><stop offset="0.2" stop-color="#ffffff"/><stop offset="0.45" stop-color="#a7e2c0"/><stop offset="1" stop-color="#3cbf73"/></radialGradient>
<radialGradient id="glp" cx="0.37" cy="0.37" r="0.27" fx="0.37" fy="0.37"><stop offset="0" stop-color="#ffffff"/><stop offset="0.2" stop-color="#ffffff"/><stop offset="0.45" stop-color="#bcbcd5"/><stop offset="1" stop-color="#6b6ba3"/></radialGradient>
<radialGradient id="glgy" cx="0.37" cy="0.37" r="0.27" fx="0.37" fy="0.37"><stop offset="0" stop-color="#ffffff"/><stop offset="0.2" stop-color="#ffffff"/><stop offset="0.45" stop-color="#d1d1d1"/><stop offset="1" stop-color="#9a9a9a"/></radialGradient>
</defs>
<circle cx="623.5" cy="728" r="14.1" fill="url(#glk)"/>
<circle cx="697.4" cy="742.6" r="14.1" fill="url(#glr)"/>
<circle cx="717.9" cy="765.8" r="14.1" fill="url(#glb)"/>
<circle cx="729.9" cy="786.6" r="14.1" fill="url(#gly)"/>
<circle cx="758.5" cy="809" r="14.1" fill="url(#glg)"/>
<circle cx="803.5" cy="829.8" r="14.1" fill="url(#glp)"/>
<circle cx="983.2" cy="865.8" r="14.1" fill="url(#glgy)"/>
<rect x="681.30" y="675.80" width="119.00" height="60.30" fill="#ffffff" stroke="#333" stroke-width="1.3" />
<text transform="translate(684.80,717.30) scale(1,1.0)" font-family="'Liberation Serif', serif" font-weight="bold" font-size="36.6" text-anchor="start" ><tspan font-style="italic">t</tspan><tspan font-size="23.8" dy="7.8">w</tspan><tspan dy="-7.8" font-size="1">&#8203;</tspan>=1 &#956;s</text>
<text transform="translate(617.50,886.00) scale(1,1.0)" font-family="'Liberation Serif', serif" font-weight="bold" font-size="36.7" text-anchor="start" ><tspan font-style="italic">Q</tspan><tspan font-size="24" dy="9.5">inv</tspan><tspan dy="-9.5" font-size="1">&#8203;</tspan>=5&#215;10<tspan font-size="24" dy="-14.5">12</tspan><tspan dy="14.5" font-size="1">&#8203;</tspan> cm<tspan font-size="24" dy="-14.5">-2</tspan><tspan dy="14.5" font-size="1">&#8203;</tspan></text>
<text transform="translate(528.50,512.00) scale(1,1.0)" font-family="'Liberation Serif', serif" font-weight="bold" font-size="43.6" text-anchor="start" letter-spacing="1.4" >(d)</text>
<text transform="translate(596.60,544.50) scale(1,1.07)" font-family="'Liberation Serif', serif" font-weight="bold" font-size="35.2" text-anchor="end" >0.0</text>
<text transform="translate(596.60,589.10) scale(1,1.07)" font-family="'Liberation Serif', serif" font-weight="bold" font-size="35.2" text-anchor="end" >-0.5</text>
<text transform="translate(596.60,633.70) scale(1,1.07)" font-family="'Liberation Serif', serif" font-weight="bold" font-size="35.2" text-anchor="end" >-1.0</text>
<text transform="translate(596.60,678.30) scale(1,1.07)" font-family="'Liberation Serif', serif" font-weight="bold" font-size="35.2" text-anchor="end" >-1.5</text>
<text transform="translate(595.30,754.25) scale(1,1.07)" font-family="'Liberation Serif', serif" font-weight="bold" font-size="35.2" text-anchor="end" >123</text>
<text transform="translate(595.30,814.85) scale(1,1.07)" font-family="'Liberation Serif', serif" font-weight="bold" font-size="35.2" text-anchor="end" >120</text>
<text transform="translate(595.30,875.45) scale(1,1.07)" font-family="'Liberation Serif', serif" font-weight="bold" font-size="35.2" text-anchor="end" >117</text>
<text transform="translate(623.00,943.00) scale(1,1.07)" font-family="'Liberation Serif', serif" font-weight="bold" font-size="35.2" text-anchor="middle" >0</text>
<text transform="translate(704.80,943.00) scale(1,1.07)" font-family="'Liberation Serif', serif" font-weight="bold" font-size="35.2" text-anchor="middle" >2</text>
<text transform="translate(786.60,943.00) scale(1,1.07)" font-family="'Liberation Serif', serif" font-weight="bold" font-size="35.2" text-anchor="middle" >4</text>
<text transform="translate(868.40,943.00) scale(1,1.07)" font-family="'Liberation Serif', serif" font-weight="bold" font-size="35.2" text-anchor="middle" >6</text>
<text transform="translate(950.20,943.00) scale(1,1.07)" font-family="'Liberation Serif', serif" font-weight="bold" font-size="35.2" text-anchor="middle" >8</text>
<text transform="translate(697.80,975.20) scale(1,1.0)" font-family="'Liberation Serif', serif" font-weight="bold" font-size="36.6" text-anchor="start" ><tspan font-style="italic">E</tspan><tspan font-size="23.5" dy="9.5">FE</tspan><tspan dy="-9.5" font-size="1">&#8203;</tspan> (MV/cm)</text>
<text transform="translate(535.00,596.50) rotate(-90) scale(1,1.0)" font-family="'Liberation Serif', serif" font-weight="bold" font-size="36" text-anchor="middle"><tspan font-style="italic">V</tspan><tspan font-size="23.5" dy="9.5">TH</tspan><tspan dy="-9.5" font-size="1">&#8203;</tspan> (V)</text>
<text transform="translate(536.00,813.50) rotate(-90) scale(1,1.0)" font-family="'Liberation Serif', serif" font-weight="bold" font-size="36.6" text-anchor="middle"><tspan font-style="italic">&#956;</tspan><tspan font-size="23.5" dy="8.5">eff</tspan><tspan dy="-8.5" font-size="1">&#8203;</tspan> (cm<tspan font-size="23.5" dy="-14">2</tspan><tspan dy="14" font-size="1">&#8203;</tspan>/V.s)</text>
</svg>
</body></html>
